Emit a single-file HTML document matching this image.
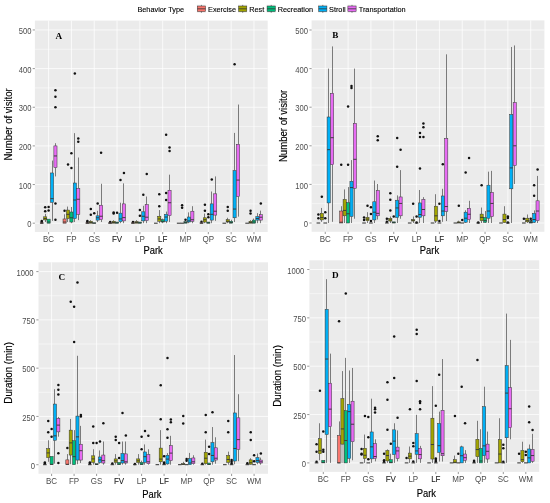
<!DOCTYPE html>
<html><head><meta charset="utf-8"><title>Behavior Type by Park</title>
<style>
html,body{margin:0;padding:0;background:#fff;}
svg{display:block;font-family:"Liberation Sans",sans-serif;}
</style></head><body>
<svg width="550" height="503" viewBox="0 0 550 503">
<rect x="0" y="0" width="550" height="503" fill="#fff"/>
<g>
<rect x="34.9" y="20.6" width="232.8" height="211.4" fill="#ebebeb"/>
<line x1="34.9" x2="267.7" y1="203.88" y2="203.88" stroke="#fff" stroke-width="0.5"/>
<line x1="34.9" x2="267.7" y1="165.22" y2="165.22" stroke="#fff" stroke-width="0.5"/>
<line x1="34.9" x2="267.7" y1="126.57" y2="126.57" stroke="#fff" stroke-width="0.5"/>
<line x1="34.9" x2="267.7" y1="87.92" y2="87.92" stroke="#fff" stroke-width="0.5"/>
<line x1="34.9" x2="267.7" y1="49.27" y2="49.27" stroke="#fff" stroke-width="0.5"/>
<line x1="34.9" x2="267.7" y1="223.2" y2="223.2" stroke="#fff" stroke-width="0.75"/>
<line x1="32.7" x2="34.9" y1="223.2" y2="223.2" stroke="#333" stroke-width="0.5"/>
<text transform="translate(31.4 227.4) scale(0.87 1)" text-anchor="end" font-size="8.8" fill="#4d4d4d">0</text>
<line x1="34.9" x2="267.7" y1="184.55" y2="184.55" stroke="#fff" stroke-width="0.75"/>
<line x1="32.7" x2="34.9" y1="184.55" y2="184.55" stroke="#333" stroke-width="0.5"/>
<text transform="translate(31.4 188.75) scale(0.87 1)" text-anchor="end" font-size="8.8" fill="#4d4d4d">100</text>
<line x1="34.9" x2="267.7" y1="145.9" y2="145.9" stroke="#fff" stroke-width="0.75"/>
<line x1="32.7" x2="34.9" y1="145.9" y2="145.9" stroke="#333" stroke-width="0.5"/>
<text transform="translate(31.4 150.1) scale(0.87 1)" text-anchor="end" font-size="8.8" fill="#4d4d4d">200</text>
<line x1="34.9" x2="267.7" y1="107.25" y2="107.25" stroke="#fff" stroke-width="0.75"/>
<line x1="32.7" x2="34.9" y1="107.25" y2="107.25" stroke="#333" stroke-width="0.5"/>
<text transform="translate(31.4 111.45) scale(0.87 1)" text-anchor="end" font-size="8.8" fill="#4d4d4d">300</text>
<line x1="34.9" x2="267.7" y1="68.6" y2="68.6" stroke="#fff" stroke-width="0.75"/>
<line x1="32.7" x2="34.9" y1="68.6" y2="68.6" stroke="#333" stroke-width="0.5"/>
<text transform="translate(31.4 72.8) scale(0.87 1)" text-anchor="end" font-size="8.8" fill="#4d4d4d">400</text>
<line x1="34.9" x2="267.7" y1="29.95" y2="29.95" stroke="#fff" stroke-width="0.75"/>
<line x1="32.7" x2="34.9" y1="29.95" y2="29.95" stroke="#333" stroke-width="0.5"/>
<text transform="translate(31.4 34.15) scale(0.87 1)" text-anchor="end" font-size="8.8" fill="#4d4d4d">500</text>
<line x1="48.6" x2="48.6" y1="20.6" y2="232" stroke="#fff" stroke-width="0.75"/>
<line x1="48.6" x2="48.6" y1="232" y2="234.2" stroke="#333" stroke-width="0.5"/>
<text transform="translate(48.6 242.3) scale(0.91 1)" text-anchor="middle" font-size="8.8" fill="#4d4d4d">BC</text>
<line x1="71.42" x2="71.42" y1="20.6" y2="232" stroke="#fff" stroke-width="0.75"/>
<line x1="71.42" x2="71.42" y1="232" y2="234.2" stroke="#333" stroke-width="0.5"/>
<text transform="translate(71.42 242.3) scale(0.91 1)" text-anchor="middle" font-size="8.8" fill="#4d4d4d">FP</text>
<line x1="94.24" x2="94.24" y1="20.6" y2="232" stroke="#fff" stroke-width="0.75"/>
<line x1="94.24" x2="94.24" y1="232" y2="234.2" stroke="#333" stroke-width="0.5"/>
<text transform="translate(94.24 242.3) scale(0.91 1)" text-anchor="middle" font-size="8.8" fill="#4d4d4d">GS</text>
<line x1="117.06" x2="117.06" y1="20.6" y2="232" stroke="#fff" stroke-width="0.75"/>
<line x1="117.06" x2="117.06" y1="232" y2="234.2" stroke="#333" stroke-width="0.5"/>
<text transform="translate(117.06 242.3) scale(0.91 1)" text-anchor="middle" font-size="8.8" fill="#1a1a1a" stroke="#1a1a1a" stroke-width="0.08">FV</text>
<line x1="139.88" x2="139.88" y1="20.6" y2="232" stroke="#fff" stroke-width="0.75"/>
<line x1="139.88" x2="139.88" y1="232" y2="234.2" stroke="#333" stroke-width="0.5"/>
<text transform="translate(139.88 242.3) scale(0.91 1)" text-anchor="middle" font-size="8.8" fill="#4d4d4d">LP</text>
<line x1="162.7" x2="162.7" y1="20.6" y2="232" stroke="#fff" stroke-width="0.75"/>
<line x1="162.7" x2="162.7" y1="232" y2="234.2" stroke="#333" stroke-width="0.5"/>
<text transform="translate(162.7 242.3) scale(0.91 1)" text-anchor="middle" font-size="8.8" fill="#1a1a1a" stroke="#1a1a1a" stroke-width="0.08">LF</text>
<line x1="185.52" x2="185.52" y1="20.6" y2="232" stroke="#fff" stroke-width="0.75"/>
<line x1="185.52" x2="185.52" y1="232" y2="234.2" stroke="#333" stroke-width="0.5"/>
<text transform="translate(185.52 242.3) scale(0.91 1)" text-anchor="middle" font-size="8.8" fill="#4d4d4d">MP</text>
<line x1="208.34" x2="208.34" y1="20.6" y2="232" stroke="#fff" stroke-width="0.75"/>
<line x1="208.34" x2="208.34" y1="232" y2="234.2" stroke="#333" stroke-width="0.5"/>
<text transform="translate(208.34 242.3) scale(0.91 1)" text-anchor="middle" font-size="8.8" fill="#4d4d4d">QP</text>
<line x1="231.16" x2="231.16" y1="20.6" y2="232" stroke="#fff" stroke-width="0.75"/>
<line x1="231.16" x2="231.16" y1="232" y2="234.2" stroke="#333" stroke-width="0.5"/>
<text transform="translate(231.16 242.3) scale(0.91 1)" text-anchor="middle" font-size="8.8" fill="#4d4d4d">SC</text>
<line x1="253.98" x2="253.98" y1="20.6" y2="232" stroke="#fff" stroke-width="0.75"/>
<line x1="253.98" x2="253.98" y1="232" y2="234.2" stroke="#333" stroke-width="0.5"/>
<text transform="translate(253.98 242.3) scale(0.91 1)" text-anchor="middle" font-size="8.8" fill="#4d4d4d">WM</text>
<circle cx="41.75" cy="222.04" r="1.25" fill="#111"/>
<circle cx="41.75" cy="220.88" r="1.25" fill="#111"/>
<line x1="41.5" x2="41.5" y1="222.43" y2="222.81" stroke="#666" stroke-width="0.85"/>
<rect x="40.18" y="222.81" width="3.15" height="0.39" fill="#F8766D" stroke="#333" stroke-width="0.5"/>
<line x1="40.18" x2="43.33" y1="223.2" y2="223.2" stroke="#333" stroke-width="0.9"/>
<circle cx="45.18" cy="211.22" r="1.25" fill="#111"/>
<circle cx="45.18" cy="207.35" r="1.25" fill="#111"/>
<line x1="45.5" x2="45.5" y1="213.92" y2="216.82" stroke="#666" stroke-width="0.85"/>
<line x1="45.5" x2="45.5" y1="219.91" y2="222.04" stroke="#666" stroke-width="0.85"/>
<rect x="43.6" y="216.82" width="3.15" height="3.09" fill="#A3A500" stroke="#333" stroke-width="0.5"/>
<line x1="43.6" x2="46.75" y1="218.56" y2="218.56" stroke="#333" stroke-width="0.9"/>
<circle cx="48.6" cy="210.45" r="1.25" fill="#111"/>
<circle cx="48.6" cy="206.97" r="1.25" fill="#111"/>
<rect x="47.03" y="219.14" width="3.15" height="4.06" fill="#00BF7D" stroke="#333" stroke-width="0.5"/>
<line x1="47.03" x2="50.17" y1="222.04" y2="222.04" stroke="#333" stroke-width="0.9"/>
<line x1="52.5" x2="52.5" y1="160.59" y2="172.95" stroke="#666" stroke-width="0.85"/>
<line x1="52.5" x2="52.5" y1="202.33" y2="220.88" stroke="#666" stroke-width="0.85"/>
<rect x="50.45" y="172.95" width="3.15" height="29.37" fill="#00B0F6" stroke="#333" stroke-width="0.5"/>
<line x1="50.45" x2="53.6" y1="198.66" y2="198.66" stroke="#333" stroke-width="0.9"/>
<circle cx="55.45" cy="219.72" r="1.25" fill="#111"/>
<circle cx="55.45" cy="203.49" r="1.25" fill="#111"/>
<circle cx="55.45" cy="107.25" r="1.25" fill="#111"/>
<circle cx="55.45" cy="96.81" r="1.25" fill="#111"/>
<circle cx="55.45" cy="90.24" r="1.25" fill="#111"/>
<line x1="55.5" x2="55.5" y1="143.19" y2="145.9" stroke="#666" stroke-width="0.85"/>
<line x1="55.5" x2="55.5" y1="167.54" y2="176.43" stroke="#666" stroke-width="0.85"/>
<rect x="53.87" y="145.9" width="3.15" height="21.64" fill="#E76BF3" stroke="#333" stroke-width="0.5"/>
<line x1="53.87" x2="57.02" y1="155.95" y2="155.95" stroke="#333" stroke-width="0.9"/>
<circle cx="64.57" cy="210.64" r="1.25" fill="#111"/>
<line x1="64.5" x2="64.5" y1="214.31" y2="218.95" stroke="#666" stroke-width="0.85"/>
<rect x="63" y="218.95" width="3.15" height="4.25" fill="#F8766D" stroke="#333" stroke-width="0.5"/>
<line x1="63" x2="66.15" y1="222.04" y2="222.04" stroke="#333" stroke-width="0.9"/>
<circle cx="68" cy="164.45" r="1.25" fill="#111"/>
<line x1="67.5" x2="67.5" y1="206.58" y2="210.06" stroke="#666" stroke-width="0.85"/>
<line x1="67.5" x2="67.5" y1="218.56" y2="222.04" stroke="#666" stroke-width="0.85"/>
<rect x="66.42" y="210.06" width="3.15" height="8.5" fill="#A3A500" stroke="#333" stroke-width="0.5"/>
<line x1="66.42" x2="69.57" y1="214.31" y2="214.31" stroke="#333" stroke-width="0.9"/>
<circle cx="71.42" cy="167.93" r="1.25" fill="#111"/>
<circle cx="71.42" cy="153.24" r="1.25" fill="#111"/>
<line x1="71.5" x2="71.5" y1="206.97" y2="211.99" stroke="#666" stroke-width="0.85"/>
<line x1="71.5" x2="71.5" y1="222.04" y2="223.2" stroke="#666" stroke-width="0.85"/>
<rect x="69.85" y="211.99" width="3.15" height="10.05" fill="#00BF7D" stroke="#333" stroke-width="0.5"/>
<line x1="69.85" x2="72.99" y1="217.79" y2="217.79" stroke="#333" stroke-width="0.9"/>
<circle cx="74.84" cy="73.62" r="1.25" fill="#111"/>
<line x1="74.5" x2="74.5" y1="133.15" y2="183" stroke="#666" stroke-width="0.85"/>
<line x1="74.5" x2="74.5" y1="218.56" y2="222.04" stroke="#666" stroke-width="0.85"/>
<rect x="73.27" y="183" width="3.15" height="35.56" fill="#00B0F6" stroke="#333" stroke-width="0.5"/>
<line x1="73.27" x2="76.42" y1="200.01" y2="200.01" stroke="#333" stroke-width="0.9"/>
<circle cx="78.27" cy="141.65" r="1.25" fill="#111"/>
<circle cx="78.27" cy="138.56" r="1.25" fill="#111"/>
<line x1="78.5" x2="78.5" y1="157.5" y2="188.41" stroke="#666" stroke-width="0.85"/>
<line x1="78.5" x2="78.5" y1="214.31" y2="220.11" stroke="#666" stroke-width="0.85"/>
<rect x="76.69" y="188.41" width="3.15" height="25.9" fill="#E76BF3" stroke="#333" stroke-width="0.5"/>
<line x1="76.69" x2="79.84" y1="199.24" y2="199.24" stroke="#333" stroke-width="0.9"/>
<circle cx="87.39" cy="222.04" r="1.25" fill="#111"/>
<circle cx="87.39" cy="220.88" r="1.25" fill="#111"/>
<rect x="85.82" y="222.81" width="3.15" height="0.39" fill="#F8766D" stroke="#333" stroke-width="0.5"/>
<line x1="85.82" x2="88.97" y1="223.2" y2="223.2" stroke="#333" stroke-width="0.9"/>
<circle cx="90.82" cy="214.7" r="1.25" fill="#111"/>
<circle cx="90.82" cy="208.9" r="1.25" fill="#111"/>
<line x1="90.5" x2="90.5" y1="220.11" y2="221.27" stroke="#666" stroke-width="0.85"/>
<rect x="89.24" y="221.27" width="3.15" height="1.93" fill="#A3A500" stroke="#333" stroke-width="0.5"/>
<line x1="89.24" x2="92.39" y1="222.43" y2="222.43" stroke="#333" stroke-width="0.9"/>
<circle cx="94.24" cy="213.15" r="1.25" fill="#111"/>
<rect x="92.67" y="222.81" width="3.15" height="0.39" fill="#00BF7D" stroke="#333" stroke-width="0.5"/>
<line x1="92.67" x2="95.81" y1="223.2" y2="223.2" stroke="#333" stroke-width="0.9"/>
<circle cx="97.66" cy="203.49" r="1.25" fill="#111"/>
<line x1="97.5" x2="97.5" y1="210.83" y2="215.86" stroke="#666" stroke-width="0.85"/>
<line x1="97.5" x2="97.5" y1="220.11" y2="222.04" stroke="#666" stroke-width="0.85"/>
<rect x="96.09" y="215.86" width="3.15" height="4.25" fill="#00B0F6" stroke="#333" stroke-width="0.5"/>
<line x1="96.09" x2="99.24" y1="217.79" y2="217.79" stroke="#333" stroke-width="0.9"/>
<circle cx="101.09" cy="152.86" r="1.25" fill="#111"/>
<line x1="101.5" x2="101.5" y1="183.78" y2="205.23" stroke="#666" stroke-width="0.85"/>
<line x1="101.5" x2="101.5" y1="219.72" y2="222.04" stroke="#666" stroke-width="0.85"/>
<rect x="99.51" y="205.23" width="3.15" height="14.49" fill="#E76BF3" stroke="#333" stroke-width="0.5"/>
<line x1="99.51" x2="102.66" y1="216.24" y2="216.24" stroke="#333" stroke-width="0.9"/>
<circle cx="110.21" cy="222.04" r="1.25" fill="#111"/>
<rect x="108.64" y="222.81" width="3.15" height="0.39" fill="#F8766D" stroke="#333" stroke-width="0.5"/>
<line x1="108.64" x2="111.79" y1="223.2" y2="223.2" stroke="#333" stroke-width="0.9"/>
<circle cx="113.64" cy="213.54" r="1.25" fill="#111"/>
<circle cx="113.64" cy="212.38" r="1.25" fill="#111"/>
<line x1="113.5" x2="113.5" y1="220.11" y2="221.27" stroke="#666" stroke-width="0.85"/>
<rect x="112.06" y="221.27" width="3.15" height="1.93" fill="#A3A500" stroke="#333" stroke-width="0.5"/>
<line x1="112.06" x2="115.21" y1="222.43" y2="222.43" stroke="#333" stroke-width="0.9"/>
<circle cx="117.06" cy="212.76" r="1.25" fill="#111"/>
<rect x="115.49" y="222.04" width="3.15" height="1.16" fill="#00BF7D" stroke="#333" stroke-width="0.5"/>
<line x1="115.49" x2="118.63" y1="222.81" y2="222.81" stroke="#333" stroke-width="0.9"/>
<circle cx="120.48" cy="180.07" r="1.25" fill="#111"/>
<line x1="120.5" x2="120.5" y1="202.72" y2="213.15" stroke="#666" stroke-width="0.85"/>
<line x1="120.5" x2="120.5" y1="221.65" y2="223.2" stroke="#666" stroke-width="0.85"/>
<rect x="118.91" y="213.15" width="3.15" height="8.5" fill="#00B0F6" stroke="#333" stroke-width="0.5"/>
<line x1="118.91" x2="122.06" y1="218.95" y2="218.95" stroke="#333" stroke-width="0.9"/>
<circle cx="123.91" cy="173.11" r="1.25" fill="#111"/>
<line x1="123.5" x2="123.5" y1="183.39" y2="203.88" stroke="#666" stroke-width="0.85"/>
<line x1="123.5" x2="123.5" y1="220.88" y2="223.2" stroke="#666" stroke-width="0.85"/>
<rect x="122.33" y="203.88" width="3.15" height="17.01" fill="#E76BF3" stroke="#333" stroke-width="0.5"/>
<line x1="122.33" x2="125.48" y1="217.6" y2="217.6" stroke="#333" stroke-width="0.9"/>
<circle cx="133.03" cy="222.04" r="1.25" fill="#111"/>
<rect x="131.46" y="222.81" width="3.15" height="0.39" fill="#F8766D" stroke="#333" stroke-width="0.5"/>
<line x1="131.46" x2="134.61" y1="223.2" y2="223.2" stroke="#333" stroke-width="0.9"/>
<line x1="136.5" x2="136.5" y1="220.11" y2="221.65" stroke="#666" stroke-width="0.85"/>
<rect x="134.88" y="221.65" width="3.15" height="1.55" fill="#A3A500" stroke="#333" stroke-width="0.5"/>
<line x1="134.88" x2="138.03" y1="222.43" y2="222.43" stroke="#333" stroke-width="0.9"/>
<circle cx="139.88" cy="215.86" r="1.25" fill="#111"/>
<circle cx="139.88" cy="210.06" r="1.25" fill="#111"/>
<rect x="138.31" y="222.04" width="3.15" height="1.16" fill="#00BF7D" stroke="#333" stroke-width="0.5"/>
<line x1="138.31" x2="141.45" y1="222.81" y2="222.81" stroke="#333" stroke-width="0.9"/>
<circle cx="143.3" cy="194.79" r="1.25" fill="#111"/>
<line x1="143.5" x2="143.5" y1="205.81" y2="211.8" stroke="#666" stroke-width="0.85"/>
<line x1="143.5" x2="143.5" y1="220.88" y2="223.2" stroke="#666" stroke-width="0.85"/>
<rect x="141.73" y="211.8" width="3.15" height="9.08" fill="#00B0F6" stroke="#333" stroke-width="0.5"/>
<line x1="141.73" x2="144.88" y1="216.24" y2="216.24" stroke="#333" stroke-width="0.9"/>
<circle cx="146.73" cy="174.11" r="1.25" fill="#111"/>
<line x1="146.5" x2="146.5" y1="196.53" y2="204.65" stroke="#666" stroke-width="0.85"/>
<line x1="146.5" x2="146.5" y1="220.49" y2="223.2" stroke="#666" stroke-width="0.85"/>
<rect x="145.15" y="204.65" width="3.15" height="15.85" fill="#E76BF3" stroke="#333" stroke-width="0.5"/>
<line x1="145.15" x2="148.3" y1="217.21" y2="217.21" stroke="#333" stroke-width="0.9"/>
<line x1="154.03" x2="157.68" y1="223.2" y2="223.2" stroke="#2a2a2a" stroke-width="1"/>
<circle cx="159.28" cy="206.19" r="1.25" fill="#111"/>
<circle cx="159.28" cy="194.21" r="1.25" fill="#111"/>
<line x1="159.5" x2="159.5" y1="210.06" y2="216.24" stroke="#666" stroke-width="0.85"/>
<line x1="159.5" x2="159.5" y1="221.27" y2="223.2" stroke="#666" stroke-width="0.85"/>
<rect x="157.7" y="216.24" width="3.15" height="5.02" fill="#A3A500" stroke="#333" stroke-width="0.5"/>
<line x1="157.7" x2="160.85" y1="218.95" y2="218.95" stroke="#333" stroke-width="0.9"/>
<line x1="162.5" x2="162.5" y1="218.56" y2="219.72" stroke="#666" stroke-width="0.85"/>
<line x1="162.5" x2="162.5" y1="222.04" y2="223.2" stroke="#666" stroke-width="0.85"/>
<rect x="161.13" y="219.72" width="3.15" height="2.32" fill="#00BF7D" stroke="#333" stroke-width="0.5"/>
<line x1="161.13" x2="164.27" y1="221.27" y2="221.27" stroke="#333" stroke-width="0.9"/>
<circle cx="166.12" cy="200.01" r="1.25" fill="#111"/>
<circle cx="166.12" cy="193.05" r="1.25" fill="#111"/>
<circle cx="166.12" cy="134.85" r="1.25" fill="#111"/>
<line x1="166.5" x2="166.5" y1="211.6" y2="214.31" stroke="#666" stroke-width="0.85"/>
<line x1="166.5" x2="166.5" y1="221.27" y2="223.2" stroke="#666" stroke-width="0.85"/>
<rect x="164.55" y="214.31" width="3.15" height="6.96" fill="#00B0F6" stroke="#333" stroke-width="0.5"/>
<line x1="164.55" x2="167.7" y1="217.02" y2="217.02" stroke="#333" stroke-width="0.9"/>
<circle cx="169.55" cy="150.92" r="1.25" fill="#111"/>
<circle cx="169.55" cy="147.45" r="1.25" fill="#111"/>
<line x1="169.5" x2="169.5" y1="174.66" y2="190.35" stroke="#666" stroke-width="0.85"/>
<line x1="169.5" x2="169.5" y1="215.47" y2="222.04" stroke="#666" stroke-width="0.85"/>
<rect x="167.97" y="190.35" width="3.15" height="25.12" fill="#E76BF3" stroke="#333" stroke-width="0.5"/>
<line x1="167.97" x2="171.12" y1="202.72" y2="202.72" stroke="#333" stroke-width="0.9"/>
<line x1="176.85" x2="180.5" y1="223.2" y2="223.2" stroke="#2a2a2a" stroke-width="1"/>
<circle cx="182.1" cy="207.74" r="1.25" fill="#111"/>
<circle cx="182.1" cy="205.23" r="1.25" fill="#111"/>
<line x1="180.27" x2="183.92" y1="223.2" y2="223.2" stroke="#2a2a2a" stroke-width="1"/>
<circle cx="185.52" cy="219.72" r="1.25" fill="#111"/>
<rect x="183.95" y="221.65" width="3.15" height="1.55" fill="#00BF7D" stroke="#333" stroke-width="0.5"/>
<line x1="183.95" x2="187.09" y1="222.43" y2="222.43" stroke="#333" stroke-width="0.9"/>
<line x1="188.5" x2="188.5" y1="212.38" y2="217.02" stroke="#666" stroke-width="0.85"/>
<line x1="188.5" x2="188.5" y1="222.04" y2="223.2" stroke="#666" stroke-width="0.85"/>
<rect x="187.37" y="217.02" width="3.15" height="5.02" fill="#00B0F6" stroke="#333" stroke-width="0.5"/>
<line x1="187.37" x2="190.52" y1="220.88" y2="220.88" stroke="#333" stroke-width="0.9"/>
<line x1="192.5" x2="192.5" y1="206.19" y2="211.22" stroke="#666" stroke-width="0.85"/>
<line x1="192.5" x2="192.5" y1="221.27" y2="223.2" stroke="#666" stroke-width="0.85"/>
<rect x="190.79" y="211.22" width="3.15" height="10.05" fill="#E76BF3" stroke="#333" stroke-width="0.5"/>
<line x1="190.79" x2="193.94" y1="219.72" y2="219.72" stroke="#333" stroke-width="0.9"/>
<circle cx="201.49" cy="221.65" r="1.25" fill="#111"/>
<rect x="199.92" y="222.81" width="3.15" height="0.39" fill="#F8766D" stroke="#333" stroke-width="0.5"/>
<line x1="199.92" x2="203.07" y1="223.2" y2="223.2" stroke="#333" stroke-width="0.9"/>
<circle cx="204.92" cy="210.64" r="1.25" fill="#111"/>
<circle cx="204.92" cy="204.65" r="1.25" fill="#111"/>
<line x1="204.5" x2="204.5" y1="213.54" y2="217.79" stroke="#666" stroke-width="0.85"/>
<line x1="204.5" x2="204.5" y1="222.04" y2="223.2" stroke="#666" stroke-width="0.85"/>
<rect x="203.34" y="217.79" width="3.15" height="4.25" fill="#A3A500" stroke="#333" stroke-width="0.5"/>
<line x1="203.34" x2="206.49" y1="219.72" y2="219.72" stroke="#333" stroke-width="0.9"/>
<circle cx="208.34" cy="217.21" r="1.25" fill="#111"/>
<circle cx="208.34" cy="214.31" r="1.25" fill="#111"/>
<rect x="206.77" y="222.04" width="3.15" height="1.16" fill="#00BF7D" stroke="#333" stroke-width="0.5"/>
<line x1="206.77" x2="209.91" y1="222.81" y2="222.81" stroke="#333" stroke-width="0.9"/>
<circle cx="211.76" cy="179.53" r="1.25" fill="#111"/>
<line x1="211.5" x2="211.5" y1="191.51" y2="203.88" stroke="#666" stroke-width="0.85"/>
<line x1="211.5" x2="211.5" y1="220.11" y2="223.2" stroke="#666" stroke-width="0.85"/>
<rect x="210.19" y="203.88" width="3.15" height="16.23" fill="#00B0F6" stroke="#333" stroke-width="0.5"/>
<line x1="210.19" x2="213.34" y1="214.31" y2="214.31" stroke="#333" stroke-width="0.9"/>
<line x1="215.5" x2="215.5" y1="176.43" y2="193.83" stroke="#666" stroke-width="0.85"/>
<line x1="215.5" x2="215.5" y1="215.08" y2="220.88" stroke="#666" stroke-width="0.85"/>
<rect x="213.61" y="193.83" width="3.15" height="21.26" fill="#E76BF3" stroke="#333" stroke-width="0.5"/>
<line x1="213.61" x2="216.76" y1="211.22" y2="211.22" stroke="#333" stroke-width="0.9"/>
<line x1="222.49" x2="226.14" y1="223.2" y2="223.2" stroke="#2a2a2a" stroke-width="1"/>
<circle cx="227.74" cy="210.64" r="1.25" fill="#111"/>
<circle cx="227.74" cy="206.97" r="1.25" fill="#111"/>
<line x1="227.5" x2="227.5" y1="217.79" y2="219.72" stroke="#666" stroke-width="0.85"/>
<line x1="227.5" x2="227.5" y1="222.04" y2="223.2" stroke="#666" stroke-width="0.85"/>
<rect x="226.16" y="219.72" width="3.15" height="2.32" fill="#A3A500" stroke="#333" stroke-width="0.5"/>
<line x1="226.16" x2="229.31" y1="221.27" y2="221.27" stroke="#333" stroke-width="0.9"/>
<line x1="231.5" x2="231.5" y1="219.72" y2="221.27" stroke="#666" stroke-width="0.85"/>
<rect x="229.59" y="221.27" width="3.15" height="1.93" fill="#00BF7D" stroke="#333" stroke-width="0.5"/>
<line x1="229.59" x2="232.73" y1="222.43" y2="222.43" stroke="#333" stroke-width="0.9"/>
<circle cx="234.58" cy="64.35" r="1.25" fill="#111"/>
<line x1="234.5" x2="234.5" y1="132.91" y2="170.64" stroke="#666" stroke-width="0.85"/>
<line x1="234.5" x2="234.5" y1="217.79" y2="222.04" stroke="#666" stroke-width="0.85"/>
<rect x="233.01" y="170.64" width="3.15" height="47.15" fill="#00B0F6" stroke="#333" stroke-width="0.5"/>
<line x1="233.01" x2="236.16" y1="209.05" y2="209.05" stroke="#333" stroke-width="0.9"/>
<line x1="238.5" x2="238.5" y1="104.54" y2="144.35" stroke="#666" stroke-width="0.85"/>
<line x1="238.5" x2="238.5" y1="196.53" y2="216.63" stroke="#666" stroke-width="0.85"/>
<rect x="236.43" y="144.35" width="3.15" height="52.18" fill="#E76BF3" stroke="#333" stroke-width="0.5"/>
<line x1="236.43" x2="239.58" y1="180.07" y2="180.07" stroke="#333" stroke-width="0.9"/>
<line x1="245.31" x2="248.96" y1="223.2" y2="223.2" stroke="#2a2a2a" stroke-width="1"/>
<circle cx="250.56" cy="213.54" r="1.25" fill="#111"/>
<circle cx="250.56" cy="210.64" r="1.25" fill="#111"/>
<line x1="250.5" x2="250.5" y1="220.11" y2="221.27" stroke="#666" stroke-width="0.85"/>
<rect x="248.98" y="221.27" width="3.15" height="1.93" fill="#A3A500" stroke="#333" stroke-width="0.5"/>
<line x1="248.98" x2="252.13" y1="222.43" y2="222.43" stroke="#333" stroke-width="0.9"/>
<line x1="253.5" x2="253.5" y1="218.56" y2="220.11" stroke="#666" stroke-width="0.85"/>
<rect x="252.41" y="220.11" width="3.15" height="3.09" fill="#00BF7D" stroke="#333" stroke-width="0.5"/>
<line x1="252.41" x2="255.55" y1="222.04" y2="222.04" stroke="#333" stroke-width="0.9"/>
<line x1="257.5" x2="257.5" y1="213.15" y2="216.63" stroke="#666" stroke-width="0.85"/>
<line x1="257.5" x2="257.5" y1="220.11" y2="223.2" stroke="#666" stroke-width="0.85"/>
<rect x="255.83" y="216.63" width="3.15" height="3.48" fill="#00B0F6" stroke="#333" stroke-width="0.5"/>
<line x1="255.83" x2="258.98" y1="218.56" y2="218.56" stroke="#333" stroke-width="0.9"/>
<circle cx="260.83" cy="203.49" r="1.25" fill="#111"/>
<line x1="260.5" x2="260.5" y1="210.64" y2="214.7" stroke="#666" stroke-width="0.85"/>
<line x1="260.5" x2="260.5" y1="220.11" y2="223.2" stroke="#666" stroke-width="0.85"/>
<rect x="259.25" y="214.7" width="3.15" height="5.41" fill="#E76BF3" stroke="#333" stroke-width="0.5"/>
<line x1="259.25" x2="262.4" y1="217.21" y2="217.21" stroke="#333" stroke-width="0.9"/>
<text transform="translate(153.1 253.9) scale(0.94 1)" text-anchor="middle" font-size="10.0" fill="#000" stroke="#000" stroke-width="0.15">Park</text>
<text transform="translate(12.2 124.4) rotate(-90) scale(0.958 1)" text-anchor="middle" font-size="10.0" fill="#000" stroke="#000" stroke-width="0.15">Number of visitor</text>
<text x="58.8" y="38.7" text-anchor="middle" font-size="9.2" font-weight="bold" font-family="'Liberation Serif',serif" fill="#000">A</text>
</g>
<g>
<rect x="311.6" y="20.4" width="232.8" height="211.4" fill="#ebebeb"/>
<line x1="311.6" x2="544.4" y1="203.7" y2="203.7" stroke="#fff" stroke-width="0.5"/>
<line x1="311.6" x2="544.4" y1="165.1" y2="165.1" stroke="#fff" stroke-width="0.5"/>
<line x1="311.6" x2="544.4" y1="126.5" y2="126.5" stroke="#fff" stroke-width="0.5"/>
<line x1="311.6" x2="544.4" y1="87.9" y2="87.9" stroke="#fff" stroke-width="0.5"/>
<line x1="311.6" x2="544.4" y1="49.3" y2="49.3" stroke="#fff" stroke-width="0.5"/>
<line x1="311.6" x2="544.4" y1="223" y2="223" stroke="#fff" stroke-width="0.75"/>
<line x1="309.4" x2="311.6" y1="223" y2="223" stroke="#333" stroke-width="0.5"/>
<text transform="translate(308.1 227.2) scale(0.87 1)" text-anchor="end" font-size="8.8" fill="#4d4d4d">0</text>
<line x1="311.6" x2="544.4" y1="184.4" y2="184.4" stroke="#fff" stroke-width="0.75"/>
<line x1="309.4" x2="311.6" y1="184.4" y2="184.4" stroke="#333" stroke-width="0.5"/>
<text transform="translate(308.1 188.6) scale(0.87 1)" text-anchor="end" font-size="8.8" fill="#4d4d4d">100</text>
<line x1="311.6" x2="544.4" y1="145.8" y2="145.8" stroke="#fff" stroke-width="0.75"/>
<line x1="309.4" x2="311.6" y1="145.8" y2="145.8" stroke="#333" stroke-width="0.5"/>
<text transform="translate(308.1 150) scale(0.87 1)" text-anchor="end" font-size="8.8" fill="#4d4d4d">200</text>
<line x1="311.6" x2="544.4" y1="107.2" y2="107.2" stroke="#fff" stroke-width="0.75"/>
<line x1="309.4" x2="311.6" y1="107.2" y2="107.2" stroke="#333" stroke-width="0.5"/>
<text transform="translate(308.1 111.4) scale(0.87 1)" text-anchor="end" font-size="8.8" fill="#4d4d4d">300</text>
<line x1="311.6" x2="544.4" y1="68.6" y2="68.6" stroke="#fff" stroke-width="0.75"/>
<line x1="309.4" x2="311.6" y1="68.6" y2="68.6" stroke="#333" stroke-width="0.5"/>
<text transform="translate(308.1 72.8) scale(0.87 1)" text-anchor="end" font-size="8.8" fill="#4d4d4d">400</text>
<line x1="311.6" x2="544.4" y1="30" y2="30" stroke="#fff" stroke-width="0.75"/>
<line x1="309.4" x2="311.6" y1="30" y2="30" stroke="#333" stroke-width="0.5"/>
<text transform="translate(308.1 34.2) scale(0.87 1)" text-anchor="end" font-size="8.8" fill="#4d4d4d">500</text>
<line x1="325.25" x2="325.25" y1="20.4" y2="231.8" stroke="#fff" stroke-width="0.75"/>
<line x1="325.25" x2="325.25" y1="231.8" y2="234" stroke="#333" stroke-width="0.5"/>
<text transform="translate(325.25 242) scale(0.91 1)" text-anchor="middle" font-size="8.8" fill="#4d4d4d">BC</text>
<line x1="348.08" x2="348.08" y1="20.4" y2="231.8" stroke="#fff" stroke-width="0.75"/>
<line x1="348.08" x2="348.08" y1="231.8" y2="234" stroke="#333" stroke-width="0.5"/>
<text transform="translate(348.08 242) scale(0.91 1)" text-anchor="middle" font-size="8.8" fill="#4d4d4d">FP</text>
<line x1="370.91" x2="370.91" y1="20.4" y2="231.8" stroke="#fff" stroke-width="0.75"/>
<line x1="370.91" x2="370.91" y1="231.8" y2="234" stroke="#333" stroke-width="0.5"/>
<text transform="translate(370.91 242) scale(0.91 1)" text-anchor="middle" font-size="8.8" fill="#4d4d4d">GS</text>
<line x1="393.74" x2="393.74" y1="20.4" y2="231.8" stroke="#fff" stroke-width="0.75"/>
<line x1="393.74" x2="393.74" y1="231.8" y2="234" stroke="#333" stroke-width="0.5"/>
<text transform="translate(393.74 242) scale(0.91 1)" text-anchor="middle" font-size="8.8" fill="#1a1a1a" stroke="#1a1a1a" stroke-width="0.08">FV</text>
<line x1="416.57" x2="416.57" y1="20.4" y2="231.8" stroke="#fff" stroke-width="0.75"/>
<line x1="416.57" x2="416.57" y1="231.8" y2="234" stroke="#333" stroke-width="0.5"/>
<text transform="translate(416.57 242) scale(0.91 1)" text-anchor="middle" font-size="8.8" fill="#4d4d4d">LP</text>
<line x1="439.4" x2="439.4" y1="20.4" y2="231.8" stroke="#fff" stroke-width="0.75"/>
<line x1="439.4" x2="439.4" y1="231.8" y2="234" stroke="#333" stroke-width="0.5"/>
<text transform="translate(439.4 242) scale(0.91 1)" text-anchor="middle" font-size="8.8" fill="#1a1a1a" stroke="#1a1a1a" stroke-width="0.08">LF</text>
<line x1="462.23" x2="462.23" y1="20.4" y2="231.8" stroke="#fff" stroke-width="0.75"/>
<line x1="462.23" x2="462.23" y1="231.8" y2="234" stroke="#333" stroke-width="0.5"/>
<text transform="translate(462.23 242) scale(0.91 1)" text-anchor="middle" font-size="8.8" fill="#4d4d4d">MP</text>
<line x1="485.06" x2="485.06" y1="20.4" y2="231.8" stroke="#fff" stroke-width="0.75"/>
<line x1="485.06" x2="485.06" y1="231.8" y2="234" stroke="#333" stroke-width="0.5"/>
<text transform="translate(485.06 242) scale(0.91 1)" text-anchor="middle" font-size="8.8" fill="#4d4d4d">QP</text>
<line x1="507.89" x2="507.89" y1="20.4" y2="231.8" stroke="#fff" stroke-width="0.75"/>
<line x1="507.89" x2="507.89" y1="231.8" y2="234" stroke="#333" stroke-width="0.5"/>
<text transform="translate(507.89 242) scale(0.91 1)" text-anchor="middle" font-size="8.8" fill="#4d4d4d">SC</text>
<line x1="530.72" x2="530.72" y1="20.4" y2="231.8" stroke="#fff" stroke-width="0.75"/>
<line x1="530.72" x2="530.72" y1="231.8" y2="234" stroke="#333" stroke-width="0.5"/>
<text transform="translate(530.72 242) scale(0.91 1)" text-anchor="middle" font-size="8.8" fill="#4d4d4d">WM</text>
<circle cx="318.4" cy="218.37" r="1.25" fill="#111"/>
<circle cx="318.4" cy="214.51" r="1.25" fill="#111"/>
<line x1="316.58" x2="320.23" y1="223" y2="223" stroke="#2a2a2a" stroke-width="1"/>
<circle cx="321.83" cy="196.75" r="1.25" fill="#111"/>
<line x1="321.5" x2="321.5" y1="207.95" y2="213.35" stroke="#666" stroke-width="0.85"/>
<line x1="321.5" x2="321.5" y1="219.91" y2="221.84" stroke="#666" stroke-width="0.85"/>
<rect x="320.25" y="213.35" width="3.15" height="6.56" fill="#A3A500" stroke="#333" stroke-width="0.5"/>
<line x1="320.25" x2="323.4" y1="217.6" y2="217.6" stroke="#333" stroke-width="0.9"/>
<circle cx="325.25" cy="218.37" r="1.25" fill="#111"/>
<circle cx="325.25" cy="212.19" r="1.25" fill="#111"/>
<line x1="323.42" x2="327.08" y1="223" y2="223" stroke="#2a2a2a" stroke-width="1"/>
<line x1="328.5" x2="328.5" y1="68.6" y2="117" stroke="#666" stroke-width="0.85"/>
<line x1="328.5" x2="328.5" y1="202.93" y2="223" stroke="#666" stroke-width="0.85"/>
<rect x="327.1" y="117" width="3.15" height="85.92" fill="#00B0F6" stroke="#333" stroke-width="0.5"/>
<line x1="327.1" x2="330.25" y1="149.66" y2="149.66" stroke="#333" stroke-width="0.9"/>
<line x1="332.5" x2="332.5" y1="46.41" y2="93.3" stroke="#666" stroke-width="0.85"/>
<line x1="332.5" x2="332.5" y1="164.71" y2="221.84" stroke="#666" stroke-width="0.85"/>
<rect x="330.52" y="93.3" width="3.15" height="71.41" fill="#E76BF3" stroke="#333" stroke-width="0.5"/>
<line x1="330.52" x2="333.67" y1="137.69" y2="137.69" stroke="#333" stroke-width="0.9"/>
<circle cx="341.23" cy="164.71" r="1.25" fill="#111"/>
<line x1="341.5" x2="341.5" y1="206.21" y2="211.03" stroke="#666" stroke-width="0.85"/>
<rect x="339.66" y="211.03" width="3.15" height="11.97" fill="#F8766D" stroke="#333" stroke-width="0.5"/>
<line x1="339.66" x2="342.81" y1="222.23" y2="222.23" stroke="#333" stroke-width="0.9"/>
<line x1="344.5" x2="344.5" y1="189.42" y2="199.45" stroke="#666" stroke-width="0.85"/>
<line x1="344.5" x2="344.5" y1="215.82" y2="223" stroke="#666" stroke-width="0.85"/>
<rect x="343.08" y="199.45" width="3.15" height="16.37" fill="#A3A500" stroke="#333" stroke-width="0.5"/>
<line x1="343.08" x2="346.23" y1="210.42" y2="210.42" stroke="#333" stroke-width="0.9"/>
<circle cx="348.08" cy="164.71" r="1.25" fill="#111"/>
<circle cx="348.08" cy="106.43" r="1.25" fill="#111"/>
<line x1="348.5" x2="348.5" y1="187.1" y2="202.54" stroke="#666" stroke-width="0.85"/>
<rect x="346.5" y="202.54" width="3.15" height="20.46" fill="#00BF7D" stroke="#333" stroke-width="0.5"/>
<line x1="346.5" x2="349.66" y1="213.74" y2="213.74" stroke="#333" stroke-width="0.9"/>
<circle cx="351.5" cy="87.9" r="1.25" fill="#111"/>
<circle cx="351.5" cy="85.97" r="1.25" fill="#111"/>
<line x1="351.5" x2="351.5" y1="160.08" y2="181.31" stroke="#666" stroke-width="0.85"/>
<line x1="351.5" x2="351.5" y1="216.44" y2="223" stroke="#666" stroke-width="0.85"/>
<rect x="349.93" y="181.31" width="3.15" height="35.13" fill="#00B0F6" stroke="#333" stroke-width="0.5"/>
<line x1="349.93" x2="353.08" y1="187.6" y2="187.6" stroke="#333" stroke-width="0.9"/>
<line x1="354.5" x2="354.5" y1="68.6" y2="123.41" stroke="#666" stroke-width="0.85"/>
<line x1="354.5" x2="354.5" y1="188.26" y2="218.75" stroke="#666" stroke-width="0.85"/>
<rect x="353.35" y="123.41" width="3.15" height="64.85" fill="#E76BF3" stroke="#333" stroke-width="0.5"/>
<line x1="353.35" x2="356.5" y1="159.31" y2="159.31" stroke="#333" stroke-width="0.9"/>
<circle cx="364.06" cy="219.91" r="1.25" fill="#111"/>
<circle cx="364.06" cy="217.6" r="1.25" fill="#111"/>
<line x1="362.24" x2="365.89" y1="223" y2="223" stroke="#2a2a2a" stroke-width="1"/>
<circle cx="367.49" cy="205.63" r="1.25" fill="#111"/>
<line x1="367.5" x2="367.5" y1="212.19" y2="217.36" stroke="#666" stroke-width="0.85"/>
<line x1="367.5" x2="367.5" y1="220.68" y2="223" stroke="#666" stroke-width="0.85"/>
<rect x="365.91" y="217.36" width="3.15" height="3.32" fill="#A3A500" stroke="#333" stroke-width="0.5"/>
<line x1="365.91" x2="369.06" y1="219.14" y2="219.14" stroke="#333" stroke-width="0.9"/>
<circle cx="370.91" cy="221.07" r="1.25" fill="#111"/>
<circle cx="370.91" cy="214.12" r="1.25" fill="#111"/>
<circle cx="370.91" cy="207.17" r="1.25" fill="#111"/>
<line x1="369.08" x2="372.74" y1="223" y2="223" stroke="#2a2a2a" stroke-width="1"/>
<line x1="374.5" x2="374.5" y1="180.54" y2="201.77" stroke="#666" stroke-width="0.85"/>
<line x1="374.5" x2="374.5" y1="219.91" y2="223" stroke="#666" stroke-width="0.85"/>
<rect x="372.76" y="201.77" width="3.15" height="18.14" fill="#00B0F6" stroke="#333" stroke-width="0.5"/>
<line x1="372.76" x2="375.91" y1="212.19" y2="212.19" stroke="#333" stroke-width="0.9"/>
<circle cx="377.76" cy="140.2" r="1.25" fill="#111"/>
<circle cx="377.76" cy="136.15" r="1.25" fill="#111"/>
<line x1="377.5" x2="377.5" y1="184.01" y2="190.58" stroke="#666" stroke-width="0.85"/>
<line x1="377.5" x2="377.5" y1="215.82" y2="219.53" stroke="#666" stroke-width="0.85"/>
<rect x="376.18" y="190.58" width="3.15" height="25.24" fill="#E76BF3" stroke="#333" stroke-width="0.5"/>
<line x1="376.18" x2="379.33" y1="213.35" y2="213.35" stroke="#333" stroke-width="0.9"/>
<circle cx="386.89" cy="221.84" r="1.25" fill="#111"/>
<circle cx="386.89" cy="218.75" r="1.25" fill="#111"/>
<line x1="385.07" x2="388.72" y1="223" y2="223" stroke="#2a2a2a" stroke-width="1"/>
<circle cx="390.32" cy="210.42" r="1.25" fill="#111"/>
<circle cx="390.32" cy="199.84" r="1.25" fill="#111"/>
<circle cx="390.32" cy="193.28" r="1.25" fill="#111"/>
<line x1="390.5" x2="390.5" y1="216.44" y2="218.37" stroke="#666" stroke-width="0.85"/>
<line x1="390.5" x2="390.5" y1="221.07" y2="223" stroke="#666" stroke-width="0.85"/>
<rect x="388.74" y="218.37" width="3.15" height="2.7" fill="#A3A500" stroke="#333" stroke-width="0.5"/>
<line x1="388.74" x2="391.89" y1="219.91" y2="219.91" stroke="#333" stroke-width="0.9"/>
<circle cx="393.74" cy="216.44" r="1.25" fill="#111"/>
<rect x="392.16" y="221.84" width="3.15" height="1.16" fill="#00BF7D" stroke="#333" stroke-width="0.5"/>
<line x1="392.16" x2="395.32" y1="222.61" y2="222.61" stroke="#333" stroke-width="0.9"/>
<circle cx="397.16" cy="166.64" r="1.25" fill="#111"/>
<circle cx="397.16" cy="138.08" r="1.25" fill="#111"/>
<line x1="397.5" x2="397.5" y1="195.4" y2="200.23" stroke="#666" stroke-width="0.85"/>
<line x1="397.5" x2="397.5" y1="217.6" y2="223" stroke="#666" stroke-width="0.85"/>
<rect x="395.59" y="200.23" width="3.15" height="17.37" fill="#00B0F6" stroke="#333" stroke-width="0.5"/>
<line x1="395.59" x2="398.74" y1="207.95" y2="207.95" stroke="#333" stroke-width="0.9"/>
<circle cx="400.59" cy="149.66" r="1.25" fill="#111"/>
<line x1="400.5" x2="400.5" y1="170.12" y2="196.94" stroke="#666" stroke-width="0.85"/>
<line x1="400.5" x2="400.5" y1="215.82" y2="218.75" stroke="#666" stroke-width="0.85"/>
<rect x="399.01" y="196.94" width="3.15" height="18.88" fill="#E76BF3" stroke="#333" stroke-width="0.5"/>
<line x1="399.01" x2="402.16" y1="203.43" y2="203.43" stroke="#333" stroke-width="0.9"/>
<line x1="407.9" x2="411.55" y1="223" y2="223" stroke="#2a2a2a" stroke-width="1"/>
<circle cx="413.15" cy="203.7" r="1.25" fill="#111"/>
<line x1="413.5" x2="413.5" y1="216.44" y2="219.53" stroke="#666" stroke-width="0.85"/>
<line x1="413.5" x2="413.5" y1="221.07" y2="223" stroke="#666" stroke-width="0.85"/>
<rect x="411.57" y="219.53" width="3.15" height="1.54" fill="#A3A500" stroke="#333" stroke-width="0.5"/>
<line x1="411.57" x2="414.72" y1="220.3" y2="220.3" stroke="#333" stroke-width="0.9"/>
<circle cx="416.57" cy="222.42" r="1.25" fill="#111"/>
<circle cx="416.57" cy="216.44" r="1.25" fill="#111"/>
<line x1="414.74" x2="418.4" y1="223" y2="223" stroke="#2a2a2a" stroke-width="1"/>
<circle cx="419.99" cy="168.57" r="1.25" fill="#111"/>
<circle cx="419.99" cy="136.92" r="1.25" fill="#111"/>
<circle cx="419.99" cy="133.06" r="1.25" fill="#111"/>
<line x1="419.5" x2="419.5" y1="190" y2="202.93" stroke="#666" stroke-width="0.85"/>
<line x1="419.5" x2="419.5" y1="217.36" y2="223" stroke="#666" stroke-width="0.85"/>
<rect x="418.42" y="202.93" width="3.15" height="14.44" fill="#00B0F6" stroke="#333" stroke-width="0.5"/>
<line x1="418.42" x2="421.57" y1="214.51" y2="214.51" stroke="#333" stroke-width="0.9"/>
<circle cx="423.42" cy="136.92" r="1.25" fill="#111"/>
<circle cx="423.42" cy="127.27" r="1.25" fill="#111"/>
<circle cx="423.42" cy="123.49" r="1.25" fill="#111"/>
<line x1="423.5" x2="423.5" y1="197.14" y2="199.45" stroke="#666" stroke-width="0.85"/>
<line x1="423.5" x2="423.5" y1="215.82" y2="223" stroke="#666" stroke-width="0.85"/>
<rect x="421.84" y="199.45" width="3.15" height="16.37" fill="#E76BF3" stroke="#333" stroke-width="0.5"/>
<line x1="421.84" x2="424.99" y1="209.49" y2="209.49" stroke="#333" stroke-width="0.9"/>
<line x1="430.73" x2="434.38" y1="223" y2="223" stroke="#2a2a2a" stroke-width="1"/>
<line x1="435.5" x2="435.5" y1="194.2" y2="206.21" stroke="#666" stroke-width="0.85"/>
<line x1="435.5" x2="435.5" y1="221.07" y2="223" stroke="#666" stroke-width="0.85"/>
<rect x="434.4" y="206.21" width="3.15" height="14.86" fill="#A3A500" stroke="#333" stroke-width="0.5"/>
<line x1="434.4" x2="437.55" y1="215.82" y2="215.82" stroke="#333" stroke-width="0.9"/>
<circle cx="439.4" cy="221.07" r="1.25" fill="#111"/>
<circle cx="439.4" cy="203.7" r="1.25" fill="#111"/>
<line x1="437.57" x2="441.23" y1="223" y2="223" stroke="#2a2a2a" stroke-width="1"/>
<circle cx="442.82" cy="164.33" r="1.25" fill="#111"/>
<line x1="442.5" x2="442.5" y1="188.8" y2="195.98" stroke="#666" stroke-width="0.85"/>
<line x1="442.5" x2="442.5" y1="215.82" y2="221.84" stroke="#666" stroke-width="0.85"/>
<rect x="441.25" y="195.98" width="3.15" height="19.84" fill="#00B0F6" stroke="#333" stroke-width="0.5"/>
<line x1="441.25" x2="444.4" y1="211.03" y2="211.03" stroke="#333" stroke-width="0.9"/>
<line x1="446.5" x2="446.5" y1="54.32" y2="138.47" stroke="#666" stroke-width="0.85"/>
<line x1="446.5" x2="446.5" y1="211.42" y2="221.07" stroke="#666" stroke-width="0.85"/>
<rect x="444.67" y="138.47" width="3.15" height="72.95" fill="#E76BF3" stroke="#333" stroke-width="0.5"/>
<line x1="444.67" x2="447.82" y1="206.56" y2="206.56" stroke="#333" stroke-width="0.9"/>
<line x1="453.56" x2="457.21" y1="223" y2="223" stroke="#2a2a2a" stroke-width="1"/>
<circle cx="458.81" cy="205.63" r="1.25" fill="#111"/>
<line x1="458.5" x2="458.5" y1="220.68" y2="221.84" stroke="#666" stroke-width="0.85"/>
<rect x="457.23" y="221.84" width="3.15" height="1.16" fill="#A3A500" stroke="#333" stroke-width="0.5"/>
<line x1="457.23" x2="460.38" y1="222.61" y2="222.61" stroke="#333" stroke-width="0.9"/>
<circle cx="462.23" cy="219.91" r="1.25" fill="#111"/>
<line x1="460.4" x2="464.06" y1="223" y2="223" stroke="#2a2a2a" stroke-width="1"/>
<circle cx="465.65" cy="172.59" r="1.25" fill="#111"/>
<line x1="465.5" x2="465.5" y1="210.26" y2="212.19" stroke="#666" stroke-width="0.85"/>
<line x1="465.5" x2="465.5" y1="222.23" y2="223" stroke="#666" stroke-width="0.85"/>
<rect x="464.08" y="212.19" width="3.15" height="10.04" fill="#00B0F6" stroke="#333" stroke-width="0.5"/>
<line x1="464.08" x2="467.23" y1="218.21" y2="218.21" stroke="#333" stroke-width="0.9"/>
<circle cx="469.08" cy="157.92" r="1.25" fill="#111"/>
<line x1="469.5" x2="469.5" y1="200.81" y2="208.33" stroke="#666" stroke-width="0.85"/>
<line x1="469.5" x2="469.5" y1="219.53" y2="223" stroke="#666" stroke-width="0.85"/>
<rect x="467.5" y="208.33" width="3.15" height="11.19" fill="#E76BF3" stroke="#333" stroke-width="0.5"/>
<line x1="467.5" x2="470.65" y1="214.24" y2="214.24" stroke="#333" stroke-width="0.9"/>
<circle cx="478.21" cy="222.42" r="1.25" fill="#111"/>
<line x1="476.39" x2="480.04" y1="223" y2="223" stroke="#2a2a2a" stroke-width="1"/>
<circle cx="481.64" cy="185.17" r="1.25" fill="#111"/>
<line x1="481.5" x2="481.5" y1="207.56" y2="214.12" stroke="#666" stroke-width="0.85"/>
<line x1="481.5" x2="481.5" y1="220.68" y2="223" stroke="#666" stroke-width="0.85"/>
<rect x="480.06" y="214.12" width="3.15" height="6.56" fill="#A3A500" stroke="#333" stroke-width="0.5"/>
<line x1="480.06" x2="483.21" y1="217.36" y2="217.36" stroke="#333" stroke-width="0.9"/>
<line x1="485.5" x2="485.5" y1="211.03" y2="217.36" stroke="#666" stroke-width="0.85"/>
<line x1="485.5" x2="485.5" y1="222.42" y2="223" stroke="#666" stroke-width="0.85"/>
<rect x="483.48" y="217.36" width="3.15" height="5.06" fill="#00BF7D" stroke="#333" stroke-width="0.5"/>
<line x1="483.48" x2="486.64" y1="220.68" y2="220.68" stroke="#333" stroke-width="0.9"/>
<line x1="488.5" x2="488.5" y1="171.66" y2="185.17" stroke="#666" stroke-width="0.85"/>
<line x1="488.5" x2="488.5" y1="218.21" y2="223" stroke="#666" stroke-width="0.85"/>
<rect x="486.91" y="185.17" width="3.15" height="33.04" fill="#00B0F6" stroke="#333" stroke-width="0.5"/>
<line x1="486.91" x2="490.06" y1="211.03" y2="211.03" stroke="#333" stroke-width="0.9"/>
<line x1="491.5" x2="491.5" y1="170.89" y2="192.51" stroke="#666" stroke-width="0.85"/>
<line x1="491.5" x2="491.5" y1="216.63" y2="223" stroke="#666" stroke-width="0.85"/>
<rect x="490.33" y="192.51" width="3.15" height="24.12" fill="#E76BF3" stroke="#333" stroke-width="0.5"/>
<line x1="490.33" x2="493.48" y1="203.43" y2="203.43" stroke="#333" stroke-width="0.9"/>
<line x1="499.22" x2="502.87" y1="223" y2="223" stroke="#2a2a2a" stroke-width="1"/>
<line x1="504.5" x2="504.5" y1="206.21" y2="214.12" stroke="#666" stroke-width="0.85"/>
<line x1="504.5" x2="504.5" y1="222.42" y2="223" stroke="#666" stroke-width="0.85"/>
<rect x="502.89" y="214.12" width="3.15" height="8.3" fill="#A3A500" stroke="#333" stroke-width="0.5"/>
<line x1="502.89" x2="506.04" y1="219.53" y2="219.53" stroke="#333" stroke-width="0.9"/>
<circle cx="507.89" cy="222.42" r="1.25" fill="#111"/>
<circle cx="507.89" cy="217.98" r="1.25" fill="#111"/>
<circle cx="507.89" cy="216.44" r="1.25" fill="#111"/>
<line x1="506.06" x2="509.72" y1="223" y2="223" stroke="#2a2a2a" stroke-width="1"/>
<line x1="511.5" x2="511.5" y1="46.98" y2="114.53" stroke="#666" stroke-width="0.85"/>
<line x1="511.5" x2="511.5" y1="188.8" y2="223" stroke="#666" stroke-width="0.85"/>
<rect x="509.74" y="114.53" width="3.15" height="74.27" fill="#00B0F6" stroke="#333" stroke-width="0.5"/>
<line x1="509.74" x2="512.89" y1="167.92" y2="167.92" stroke="#333" stroke-width="0.9"/>
<line x1="514.5" x2="514.5" y1="45.44" y2="102.68" stroke="#666" stroke-width="0.85"/>
<line x1="514.5" x2="514.5" y1="165.49" y2="184.01" stroke="#666" stroke-width="0.85"/>
<rect x="513.16" y="102.68" width="3.15" height="62.8" fill="#E76BF3" stroke="#333" stroke-width="0.5"/>
<line x1="513.16" x2="516.31" y1="145.8" y2="145.8" stroke="#333" stroke-width="0.9"/>
<circle cx="523.87" cy="218.75" r="1.25" fill="#111"/>
<line x1="522.05" x2="525.7" y1="223" y2="223" stroke="#2a2a2a" stroke-width="1"/>
<line x1="527.5" x2="527.5" y1="214.51" y2="218.21" stroke="#666" stroke-width="0.85"/>
<line x1="527.5" x2="527.5" y1="221.84" y2="223" stroke="#666" stroke-width="0.85"/>
<rect x="525.72" y="218.21" width="3.15" height="3.63" fill="#A3A500" stroke="#333" stroke-width="0.5"/>
<line x1="525.72" x2="528.87" y1="220.68" y2="220.68" stroke="#333" stroke-width="0.9"/>
<circle cx="530.72" cy="220.68" r="1.25" fill="#111"/>
<circle cx="530.72" cy="218.75" r="1.25" fill="#111"/>
<line x1="530.5" x2="530.5" y1="219.91" y2="221.84" stroke="#666" stroke-width="0.85"/>
<rect x="529.14" y="221.84" width="3.15" height="1.16" fill="#00BF7D" stroke="#333" stroke-width="0.5"/>
<line x1="529.14" x2="532.3" y1="222.61" y2="222.61" stroke="#333" stroke-width="0.9"/>
<circle cx="534.14" cy="195.75" r="1.25" fill="#111"/>
<circle cx="534.14" cy="185.17" r="1.25" fill="#111"/>
<line x1="534.5" x2="534.5" y1="210.42" y2="213.35" stroke="#666" stroke-width="0.85"/>
<line x1="534.5" x2="534.5" y1="222.42" y2="223" stroke="#666" stroke-width="0.85"/>
<rect x="532.57" y="213.35" width="3.15" height="9.07" fill="#00B0F6" stroke="#333" stroke-width="0.5"/>
<line x1="532.57" x2="535.72" y1="219.53" y2="219.53" stroke="#333" stroke-width="0.9"/>
<circle cx="537.57" cy="169.5" r="1.25" fill="#111"/>
<line x1="537.5" x2="537.5" y1="175.91" y2="200.81" stroke="#666" stroke-width="0.85"/>
<line x1="537.5" x2="537.5" y1="220.68" y2="223" stroke="#666" stroke-width="0.85"/>
<rect x="535.99" y="200.81" width="3.15" height="19.88" fill="#E76BF3" stroke="#333" stroke-width="0.5"/>
<line x1="535.99" x2="539.14" y1="211.03" y2="211.03" stroke="#333" stroke-width="0.9"/>
<text transform="translate(429.5 253.9) scale(0.94 1)" text-anchor="middle" font-size="10.0" fill="#000" stroke="#000" stroke-width="0.15">Park</text>
<text transform="translate(287.3 125.9) rotate(-90) scale(0.958 1)" text-anchor="middle" font-size="10.0" fill="#000" stroke="#000" stroke-width="0.15">Number of visitor</text>
<text x="335.3" y="38.3" text-anchor="middle" font-size="9.2" font-weight="bold" font-family="'Liberation Serif',serif" fill="#000">B</text>
</g>
<g>
<rect x="38.5" y="262.3" width="229.5" height="211.5" fill="#ebebeb"/>
<line x1="38.5" x2="268" y1="440.56" y2="440.56" stroke="#fff" stroke-width="0.5"/>
<line x1="38.5" x2="268" y1="392.29" y2="392.29" stroke="#fff" stroke-width="0.5"/>
<line x1="38.5" x2="268" y1="344.01" y2="344.01" stroke="#fff" stroke-width="0.5"/>
<line x1="38.5" x2="268" y1="295.74" y2="295.74" stroke="#fff" stroke-width="0.5"/>
<line x1="38.5" x2="268" y1="464.7" y2="464.7" stroke="#fff" stroke-width="0.75"/>
<line x1="36.3" x2="38.5" y1="464.7" y2="464.7" stroke="#333" stroke-width="0.5"/>
<text transform="translate(35 468.9) scale(0.87 1)" text-anchor="end" font-size="8.8" fill="#4d4d4d">0</text>
<line x1="38.5" x2="268" y1="416.43" y2="416.43" stroke="#fff" stroke-width="0.75"/>
<line x1="36.3" x2="38.5" y1="416.43" y2="416.43" stroke="#333" stroke-width="0.5"/>
<text transform="translate(35 420.62) scale(0.87 1)" text-anchor="end" font-size="8.8" fill="#4d4d4d">250</text>
<line x1="38.5" x2="268" y1="368.15" y2="368.15" stroke="#fff" stroke-width="0.75"/>
<line x1="36.3" x2="38.5" y1="368.15" y2="368.15" stroke="#333" stroke-width="0.5"/>
<text transform="translate(35 372.35) scale(0.87 1)" text-anchor="end" font-size="8.8" fill="#4d4d4d">500</text>
<line x1="38.5" x2="268" y1="319.88" y2="319.88" stroke="#fff" stroke-width="0.75"/>
<line x1="36.3" x2="38.5" y1="319.88" y2="319.88" stroke="#333" stroke-width="0.5"/>
<text transform="translate(35 324.07) scale(0.87 1)" text-anchor="end" font-size="8.8" fill="#4d4d4d">750</text>
<line x1="38.5" x2="268" y1="271.6" y2="271.6" stroke="#fff" stroke-width="0.75"/>
<line x1="36.3" x2="38.5" y1="271.6" y2="271.6" stroke="#333" stroke-width="0.5"/>
<text transform="translate(33.4 275.8) scale(0.87 1)" text-anchor="end" font-size="8.8" fill="#4d4d4d">1000</text>
<line x1="51.6" x2="51.6" y1="262.3" y2="473.8" stroke="#fff" stroke-width="0.75"/>
<line x1="51.6" x2="51.6" y1="473.8" y2="476" stroke="#333" stroke-width="0.5"/>
<text transform="translate(51.6 484) scale(0.91 1)" text-anchor="middle" font-size="8.8" fill="#4d4d4d">BC</text>
<line x1="74.1" x2="74.1" y1="262.3" y2="473.8" stroke="#fff" stroke-width="0.75"/>
<line x1="74.1" x2="74.1" y1="473.8" y2="476" stroke="#333" stroke-width="0.5"/>
<text transform="translate(74.1 484) scale(0.91 1)" text-anchor="middle" font-size="8.8" fill="#4d4d4d">FP</text>
<line x1="96.6" x2="96.6" y1="262.3" y2="473.8" stroke="#fff" stroke-width="0.75"/>
<line x1="96.6" x2="96.6" y1="473.8" y2="476" stroke="#333" stroke-width="0.5"/>
<text transform="translate(96.6 484) scale(0.91 1)" text-anchor="middle" font-size="8.8" fill="#4d4d4d">GS</text>
<line x1="119.1" x2="119.1" y1="262.3" y2="473.8" stroke="#fff" stroke-width="0.75"/>
<line x1="119.1" x2="119.1" y1="473.8" y2="476" stroke="#333" stroke-width="0.5"/>
<text transform="translate(119.1 484) scale(0.91 1)" text-anchor="middle" font-size="8.8" fill="#1a1a1a" stroke="#1a1a1a" stroke-width="0.08">FV</text>
<line x1="141.6" x2="141.6" y1="262.3" y2="473.8" stroke="#fff" stroke-width="0.75"/>
<line x1="141.6" x2="141.6" y1="473.8" y2="476" stroke="#333" stroke-width="0.5"/>
<text transform="translate(141.6 484) scale(0.91 1)" text-anchor="middle" font-size="8.8" fill="#4d4d4d">LP</text>
<line x1="164.1" x2="164.1" y1="262.3" y2="473.8" stroke="#fff" stroke-width="0.75"/>
<line x1="164.1" x2="164.1" y1="473.8" y2="476" stroke="#333" stroke-width="0.5"/>
<text transform="translate(164.1 484) scale(0.91 1)" text-anchor="middle" font-size="8.8" fill="#1a1a1a" stroke="#1a1a1a" stroke-width="0.08">LF</text>
<line x1="186.6" x2="186.6" y1="262.3" y2="473.8" stroke="#fff" stroke-width="0.75"/>
<line x1="186.6" x2="186.6" y1="473.8" y2="476" stroke="#333" stroke-width="0.5"/>
<text transform="translate(186.6 484) scale(0.91 1)" text-anchor="middle" font-size="8.8" fill="#4d4d4d">MP</text>
<line x1="209.1" x2="209.1" y1="262.3" y2="473.8" stroke="#fff" stroke-width="0.75"/>
<line x1="209.1" x2="209.1" y1="473.8" y2="476" stroke="#333" stroke-width="0.5"/>
<text transform="translate(209.1 484) scale(0.91 1)" text-anchor="middle" font-size="8.8" fill="#4d4d4d">QP</text>
<line x1="231.6" x2="231.6" y1="262.3" y2="473.8" stroke="#fff" stroke-width="0.75"/>
<line x1="231.6" x2="231.6" y1="473.8" y2="476" stroke="#333" stroke-width="0.5"/>
<text transform="translate(231.6 484) scale(0.91 1)" text-anchor="middle" font-size="8.8" fill="#4d4d4d">SC</text>
<line x1="254.1" x2="254.1" y1="262.3" y2="473.8" stroke="#fff" stroke-width="0.75"/>
<line x1="254.1" x2="254.1" y1="473.8" y2="476" stroke="#333" stroke-width="0.5"/>
<text transform="translate(254.1 484) scale(0.91 1)" text-anchor="middle" font-size="8.8" fill="#4d4d4d">WM</text>
<circle cx="44.85" cy="463.54" r="1.25" fill="#111"/>
<circle cx="44.85" cy="462.38" r="1.25" fill="#111"/>
<line x1="43.05" x2="46.65" y1="464.7" y2="464.7" stroke="#2a2a2a" stroke-width="1"/>
<circle cx="48.23" cy="432.26" r="1.25" fill="#111"/>
<circle cx="48.23" cy="421.06" r="1.25" fill="#111"/>
<line x1="48.5" x2="48.5" y1="440.25" y2="448.67" stroke="#666" stroke-width="0.85"/>
<line x1="48.5" x2="48.5" y1="457.63" y2="461.8" stroke="#666" stroke-width="0.85"/>
<rect x="46.67" y="448.67" width="3.1" height="8.96" fill="#A3A500" stroke="#333" stroke-width="0.5"/>
<line x1="46.67" x2="49.78" y1="452.92" y2="452.92" stroke="#333" stroke-width="0.9"/>
<circle cx="51.6" cy="436.7" r="1.25" fill="#111"/>
<circle cx="51.6" cy="428.88" r="1.25" fill="#111"/>
<rect x="50.05" y="456.4" width="3.1" height="8.3" fill="#00BF7D" stroke="#333" stroke-width="0.5"/>
<line x1="50.05" x2="53.15" y1="464.31" y2="464.31" stroke="#333" stroke-width="0.9"/>
<line x1="54.5" x2="54.5" y1="389.2" y2="404.07" stroke="#666" stroke-width="0.85"/>
<line x1="54.5" x2="54.5" y1="440.25" y2="463.62" stroke="#666" stroke-width="0.85"/>
<rect x="53.42" y="404.07" width="3.1" height="36.19" fill="#00B0F6" stroke="#333" stroke-width="0.5"/>
<line x1="53.42" x2="56.53" y1="435.83" y2="435.83" stroke="#333" stroke-width="0.9"/>
<circle cx="58.35" cy="463.02" r="1.25" fill="#111"/>
<circle cx="58.35" cy="453.19" r="1.25" fill="#111"/>
<circle cx="58.35" cy="394.51" r="1.25" fill="#111"/>
<circle cx="58.35" cy="389.78" r="1.25" fill="#111"/>
<circle cx="58.35" cy="384.95" r="1.25" fill="#111"/>
<line x1="58.5" x2="58.5" y1="416.89" y2="418.36" stroke="#666" stroke-width="0.85"/>
<line x1="58.5" x2="58.5" y1="431.87" y2="436.7" stroke="#666" stroke-width="0.85"/>
<rect x="56.8" y="418.36" width="3.1" height="13.52" fill="#E76BF3" stroke="#333" stroke-width="0.5"/>
<line x1="56.8" x2="59.9" y1="425.11" y2="425.11" stroke="#333" stroke-width="0.9"/>
<circle cx="67.35" cy="448.09" r="1.25" fill="#111"/>
<line x1="67.5" x2="67.5" y1="454.08" y2="459.87" stroke="#666" stroke-width="0.85"/>
<rect x="65.8" y="459.87" width="3.1" height="4.83" fill="#F8766D" stroke="#333" stroke-width="0.5"/>
<line x1="65.8" x2="68.9" y1="464.31" y2="464.31" stroke="#333" stroke-width="0.9"/>
<circle cx="70.72" cy="301.72" r="1.25" fill="#111"/>
<line x1="70.5" x2="70.5" y1="418.94" y2="430.14" stroke="#666" stroke-width="0.85"/>
<line x1="70.5" x2="70.5" y1="455.05" y2="464.22" stroke="#666" stroke-width="0.85"/>
<rect x="69.17" y="430.14" width="3.1" height="24.91" fill="#A3A500" stroke="#333" stroke-width="0.5"/>
<line x1="69.17" x2="72.28" y1="442.88" y2="442.88" stroke="#333" stroke-width="0.9"/>
<circle cx="74.1" cy="342.08" r="1.25" fill="#111"/>
<circle cx="74.1" cy="306.84" r="1.25" fill="#111"/>
<line x1="74.5" x2="74.5" y1="430.14" y2="440.56" stroke="#666" stroke-width="0.85"/>
<rect x="72.55" y="440.56" width="3.1" height="24.14" fill="#00BF7D" stroke="#333" stroke-width="0.5"/>
<line x1="72.55" x2="75.65" y1="456.67" y2="456.67" stroke="#333" stroke-width="0.9"/>
<circle cx="77.47" cy="282.41" r="1.25" fill="#111"/>
<line x1="77.5" x2="77.5" y1="355.79" y2="416.1" stroke="#666" stroke-width="0.85"/>
<line x1="77.5" x2="77.5" y1="460.07" y2="464.22" stroke="#666" stroke-width="0.85"/>
<rect x="75.92" y="416.1" width="3.1" height="43.97" fill="#00B0F6" stroke="#333" stroke-width="0.5"/>
<line x1="75.92" x2="79.03" y1="436.89" y2="436.89" stroke="#333" stroke-width="0.9"/>
<circle cx="80.85" cy="416.43" r="1.25" fill="#111"/>
<circle cx="80.85" cy="415.07" r="1.25" fill="#111"/>
<line x1="80.5" x2="80.5" y1="425.89" y2="444.23" stroke="#666" stroke-width="0.85"/>
<line x1="80.5" x2="80.5" y1="460.07" y2="463.02" stroke="#666" stroke-width="0.85"/>
<rect x="79.3" y="444.23" width="3.1" height="15.83" fill="#E76BF3" stroke="#333" stroke-width="0.5"/>
<line x1="79.3" x2="82.4" y1="450.68" y2="450.68" stroke="#333" stroke-width="0.9"/>
<circle cx="89.85" cy="463.54" r="1.25" fill="#111"/>
<circle cx="89.85" cy="462.38" r="1.25" fill="#111"/>
<line x1="88.05" x2="91.65" y1="464.7" y2="464.7" stroke="#2a2a2a" stroke-width="1"/>
<circle cx="93.22" cy="443.07" r="1.25" fill="#111"/>
<circle cx="93.22" cy="426.47" r="1.25" fill="#111"/>
<line x1="93.5" x2="93.5" y1="449.25" y2="455.82" stroke="#666" stroke-width="0.85"/>
<line x1="93.5" x2="93.5" y1="462.38" y2="464.7" stroke="#666" stroke-width="0.85"/>
<rect x="91.67" y="455.82" width="3.1" height="6.57" fill="#A3A500" stroke="#333" stroke-width="0.5"/>
<line x1="91.67" x2="94.78" y1="458.91" y2="458.91" stroke="#333" stroke-width="0.9"/>
<circle cx="96.6" cy="443.07" r="1.25" fill="#111"/>
<rect x="95.05" y="463.73" width="3.1" height="0.97" fill="#00BF7D" stroke="#333" stroke-width="0.5"/>
<line x1="95.05" x2="98.15" y1="464.51" y2="464.51" stroke="#333" stroke-width="0.9"/>
<circle cx="99.97" cy="441.53" r="1.25" fill="#111"/>
<line x1="99.5" x2="99.5" y1="450.41" y2="456.98" stroke="#666" stroke-width="0.85"/>
<line x1="99.5" x2="99.5" y1="462.38" y2="463.73" stroke="#666" stroke-width="0.85"/>
<rect x="98.42" y="456.98" width="3.1" height="5.41" fill="#00B0F6" stroke="#333" stroke-width="0.5"/>
<line x1="98.42" x2="101.53" y1="459.87" y2="459.87" stroke="#333" stroke-width="0.9"/>
<circle cx="103.35" cy="423.18" r="1.25" fill="#111"/>
<line x1="103.5" x2="103.5" y1="441.53" y2="455.05" stroke="#666" stroke-width="0.85"/>
<line x1="103.5" x2="103.5" y1="463.02" y2="464.7" stroke="#666" stroke-width="0.85"/>
<rect x="101.8" y="455.05" width="3.1" height="7.98" fill="#E76BF3" stroke="#333" stroke-width="0.5"/>
<line x1="101.8" x2="104.9" y1="460.64" y2="460.64" stroke="#333" stroke-width="0.9"/>
<circle cx="112.35" cy="463.62" r="1.25" fill="#111"/>
<line x1="110.55" x2="114.15" y1="464.7" y2="464.7" stroke="#2a2a2a" stroke-width="1"/>
<circle cx="115.72" cy="439.98" r="1.25" fill="#111"/>
<circle cx="115.72" cy="436.7" r="1.25" fill="#111"/>
<line x1="115.5" x2="115.5" y1="454.08" y2="458.91" stroke="#666" stroke-width="0.85"/>
<line x1="115.5" x2="115.5" y1="462.38" y2="464.7" stroke="#666" stroke-width="0.85"/>
<rect x="114.17" y="458.91" width="3.1" height="3.48" fill="#A3A500" stroke="#333" stroke-width="0.5"/>
<line x1="114.17" x2="117.28" y1="460.84" y2="460.84" stroke="#333" stroke-width="0.9"/>
<circle cx="119.1" cy="457.94" r="1.25" fill="#111"/>
<circle cx="119.1" cy="443.07" r="1.25" fill="#111"/>
<rect x="117.55" y="462.38" width="3.1" height="2.32" fill="#00BF7D" stroke="#333" stroke-width="0.5"/>
<line x1="117.55" x2="120.65" y1="464.12" y2="464.12" stroke="#333" stroke-width="0.9"/>
<circle cx="122.47" cy="412.95" r="1.25" fill="#111"/>
<line x1="122.5" x2="122.5" y1="441.53" y2="453.5" stroke="#666" stroke-width="0.85"/>
<line x1="122.5" x2="122.5" y1="463.02" y2="464.7" stroke="#666" stroke-width="0.85"/>
<rect x="120.92" y="453.5" width="3.1" height="9.52" fill="#00B0F6" stroke="#333" stroke-width="0.5"/>
<line x1="120.92" x2="124.03" y1="460.64" y2="460.64" stroke="#333" stroke-width="0.9"/>
<circle cx="125.85" cy="435.54" r="1.25" fill="#111"/>
<line x1="125.5" x2="125.5" y1="441.53" y2="453.89" stroke="#666" stroke-width="0.85"/>
<line x1="125.5" x2="125.5" y1="463.02" y2="464.7" stroke="#666" stroke-width="0.85"/>
<rect x="124.3" y="453.89" width="3.1" height="9.13" fill="#E76BF3" stroke="#333" stroke-width="0.5"/>
<line x1="124.3" x2="127.4" y1="461.8" y2="461.8" stroke="#333" stroke-width="0.9"/>
<circle cx="134.85" cy="463.93" r="1.25" fill="#111"/>
<line x1="133.05" x2="136.65" y1="464.7" y2="464.7" stroke="#2a2a2a" stroke-width="1"/>
<line x1="138.5" x2="138.5" y1="454.08" y2="458.91" stroke="#666" stroke-width="0.85"/>
<line x1="138.5" x2="138.5" y1="462.38" y2="464.7" stroke="#666" stroke-width="0.85"/>
<rect x="136.67" y="458.91" width="3.1" height="3.48" fill="#A3A500" stroke="#333" stroke-width="0.5"/>
<line x1="136.67" x2="139.78" y1="460.84" y2="460.84" stroke="#333" stroke-width="0.9"/>
<circle cx="141.6" cy="449.25" r="1.25" fill="#111"/>
<circle cx="141.6" cy="436.7" r="1.25" fill="#111"/>
<line x1="141.5" x2="141.5" y1="460.64" y2="462.38" stroke="#666" stroke-width="0.85"/>
<rect x="140.05" y="462.38" width="3.1" height="2.32" fill="#00BF7D" stroke="#333" stroke-width="0.5"/>
<line x1="140.05" x2="143.15" y1="464.12" y2="464.12" stroke="#333" stroke-width="0.9"/>
<circle cx="144.97" cy="431.1" r="1.25" fill="#111"/>
<line x1="144.5" x2="144.5" y1="444.42" y2="451.96" stroke="#666" stroke-width="0.85"/>
<line x1="144.5" x2="144.5" y1="462.38" y2="464.7" stroke="#666" stroke-width="0.85"/>
<rect x="143.42" y="451.96" width="3.1" height="10.43" fill="#00B0F6" stroke="#333" stroke-width="0.5"/>
<line x1="143.42" x2="146.53" y1="456.67" y2="456.67" stroke="#333" stroke-width="0.9"/>
<circle cx="148.35" cy="435.83" r="1.25" fill="#111"/>
<line x1="148.5" x2="148.5" y1="449.25" y2="454.66" stroke="#666" stroke-width="0.85"/>
<line x1="148.5" x2="148.5" y1="463.62" y2="464.7" stroke="#666" stroke-width="0.85"/>
<rect x="146.8" y="454.66" width="3.1" height="8.96" fill="#E76BF3" stroke="#333" stroke-width="0.5"/>
<line x1="146.8" x2="149.9" y1="461.8" y2="461.8" stroke="#333" stroke-width="0.9"/>
<line x1="155.55" x2="159.15" y1="464.7" y2="464.7" stroke="#2a2a2a" stroke-width="1"/>
<circle cx="160.72" cy="419.32" r="1.25" fill="#111"/>
<circle cx="160.72" cy="385.2" r="1.25" fill="#111"/>
<line x1="160.5" x2="160.5" y1="430.14" y2="448.09" stroke="#666" stroke-width="0.85"/>
<line x1="160.5" x2="160.5" y1="461.8" y2="464.7" stroke="#666" stroke-width="0.85"/>
<rect x="159.17" y="448.09" width="3.1" height="13.71" fill="#A3A500" stroke="#333" stroke-width="0.5"/>
<line x1="159.17" x2="162.28" y1="459.1" y2="459.1" stroke="#333" stroke-width="0.9"/>
<circle cx="164.1" cy="463.62" r="1.25" fill="#111"/>
<circle cx="164.1" cy="462.38" r="1.25" fill="#111"/>
<circle cx="164.1" cy="456.2" r="1.25" fill="#111"/>
<line x1="162.3" x2="165.9" y1="464.7" y2="464.7" stroke="#2a2a2a" stroke-width="1"/>
<circle cx="167.47" cy="437.86" r="1.25" fill="#111"/>
<circle cx="167.47" cy="429.17" r="1.25" fill="#111"/>
<circle cx="167.47" cy="358.11" r="1.25" fill="#111"/>
<line x1="167.5" x2="167.5" y1="453.11" y2="455.24" stroke="#666" stroke-width="0.85"/>
<line x1="167.5" x2="167.5" y1="463.93" y2="464.7" stroke="#666" stroke-width="0.85"/>
<rect x="165.92" y="455.24" width="3.1" height="8.69" fill="#00B0F6" stroke="#333" stroke-width="0.5"/>
<line x1="165.92" x2="169.03" y1="459.1" y2="459.1" stroke="#333" stroke-width="0.9"/>
<circle cx="170.85" cy="422.28" r="1.25" fill="#111"/>
<circle cx="170.85" cy="419.51" r="1.25" fill="#111"/>
<line x1="170.5" x2="170.5" y1="435.83" y2="445.64" stroke="#666" stroke-width="0.85"/>
<line x1="170.5" x2="170.5" y1="460.64" y2="464.7" stroke="#666" stroke-width="0.85"/>
<rect x="169.3" y="445.64" width="3.1" height="15" fill="#E76BF3" stroke="#333" stroke-width="0.5"/>
<line x1="169.3" x2="172.4" y1="453.11" y2="453.11" stroke="#333" stroke-width="0.9"/>
<line x1="178.05" x2="181.65" y1="464.7" y2="464.7" stroke="#2a2a2a" stroke-width="1"/>
<circle cx="183.22" cy="423.57" r="1.25" fill="#111"/>
<circle cx="183.22" cy="415.94" r="1.25" fill="#111"/>
<line x1="183.5" x2="183.5" y1="461.8" y2="463.73" stroke="#666" stroke-width="0.85"/>
<rect x="181.67" y="463.73" width="3.1" height="0.97" fill="#A3A500" stroke="#333" stroke-width="0.5"/>
<line x1="181.67" x2="184.78" y1="464.31" y2="464.31" stroke="#333" stroke-width="0.9"/>
<circle cx="186.6" cy="460.64" r="1.25" fill="#111"/>
<circle cx="186.6" cy="458.91" r="1.25" fill="#111"/>
<line x1="184.8" x2="188.4" y1="464.7" y2="464.7" stroke="#2a2a2a" stroke-width="1"/>
<line x1="189.5" x2="189.5" y1="452.92" y2="458.6" stroke="#666" stroke-width="0.85"/>
<rect x="188.42" y="458.6" width="3.1" height="6.1" fill="#00B0F6" stroke="#333" stroke-width="0.5"/>
<line x1="188.42" x2="191.53" y1="463.02" y2="463.02" stroke="#333" stroke-width="0.9"/>
<line x1="193.5" x2="193.5" y1="455.24" y2="457.94" stroke="#666" stroke-width="0.85"/>
<line x1="193.5" x2="193.5" y1="463.62" y2="464.7" stroke="#666" stroke-width="0.85"/>
<rect x="191.8" y="457.94" width="3.1" height="5.68" fill="#E76BF3" stroke="#333" stroke-width="0.5"/>
<line x1="191.8" x2="194.9" y1="461.8" y2="461.8" stroke="#333" stroke-width="0.9"/>
<circle cx="202.35" cy="463.73" r="1.25" fill="#111"/>
<line x1="200.55" x2="204.15" y1="464.7" y2="464.7" stroke="#2a2a2a" stroke-width="1"/>
<circle cx="205.72" cy="432.26" r="1.25" fill="#111"/>
<circle cx="205.72" cy="415.07" r="1.25" fill="#111"/>
<line x1="205.5" x2="205.5" y1="439.6" y2="452.25" stroke="#666" stroke-width="0.85"/>
<line x1="205.5" x2="205.5" y1="463.62" y2="464.7" stroke="#666" stroke-width="0.85"/>
<rect x="204.17" y="452.25" width="3.1" height="11.37" fill="#A3A500" stroke="#333" stroke-width="0.5"/>
<line x1="204.17" x2="207.28" y1="458.23" y2="458.23" stroke="#333" stroke-width="0.9"/>
<circle cx="209.1" cy="454.08" r="1.25" fill="#111"/>
<circle cx="209.1" cy="446.84" r="1.25" fill="#111"/>
<rect x="207.55" y="463.02" width="3.1" height="1.68" fill="#00BF7D" stroke="#333" stroke-width="0.5"/>
<line x1="207.55" x2="210.65" y1="464.31" y2="464.31" stroke="#333" stroke-width="0.9"/>
<circle cx="212.47" cy="412.37" r="1.25" fill="#111"/>
<line x1="212.5" x2="212.5" y1="427.05" y2="442.69" stroke="#666" stroke-width="0.85"/>
<line x1="212.5" x2="212.5" y1="461.8" y2="464.7" stroke="#666" stroke-width="0.85"/>
<rect x="210.92" y="442.69" width="3.1" height="19.12" fill="#00B0F6" stroke="#333" stroke-width="0.5"/>
<line x1="210.92" x2="214.03" y1="455.47" y2="455.47" stroke="#333" stroke-width="0.9"/>
<line x1="215.5" x2="215.5" y1="437.28" y2="447.8" stroke="#666" stroke-width="0.85"/>
<line x1="215.5" x2="215.5" y1="460.07" y2="463.73" stroke="#666" stroke-width="0.85"/>
<rect x="214.3" y="447.8" width="3.1" height="12.26" fill="#E76BF3" stroke="#333" stroke-width="0.5"/>
<line x1="214.3" x2="217.4" y1="458.23" y2="458.23" stroke="#333" stroke-width="0.9"/>
<line x1="223.05" x2="226.65" y1="464.7" y2="464.7" stroke="#2a2a2a" stroke-width="1"/>
<circle cx="228.22" cy="432.26" r="1.25" fill="#111"/>
<circle cx="228.22" cy="421.06" r="1.25" fill="#111"/>
<line x1="228.5" x2="228.5" y1="451.65" y2="455.47" stroke="#666" stroke-width="0.85"/>
<line x1="228.5" x2="228.5" y1="462.38" y2="464.7" stroke="#666" stroke-width="0.85"/>
<rect x="226.67" y="455.47" width="3.1" height="6.91" fill="#A3A500" stroke="#333" stroke-width="0.5"/>
<line x1="226.67" x2="229.78" y1="459.49" y2="459.49" stroke="#333" stroke-width="0.9"/>
<circle cx="231.6" cy="463.54" r="1.25" fill="#111"/>
<circle cx="231.6" cy="461.8" r="1.25" fill="#111"/>
<circle cx="231.6" cy="460.07" r="1.25" fill="#111"/>
<line x1="229.8" x2="233.4" y1="464.7" y2="464.7" stroke="#2a2a2a" stroke-width="1"/>
<line x1="234.5" x2="234.5" y1="355.02" y2="412.95" stroke="#666" stroke-width="0.85"/>
<line x1="234.5" x2="234.5" y1="461.03" y2="464.22" stroke="#666" stroke-width="0.85"/>
<rect x="233.42" y="412.95" width="3.1" height="48.08" fill="#00B0F6" stroke="#333" stroke-width="0.5"/>
<line x1="233.42" x2="236.53" y1="448.48" y2="448.48" stroke="#333" stroke-width="0.9"/>
<line x1="238.5" x2="238.5" y1="394.22" y2="417.85" stroke="#666" stroke-width="0.85"/>
<line x1="238.5" x2="238.5" y1="449.25" y2="461.22" stroke="#666" stroke-width="0.85"/>
<rect x="236.8" y="417.85" width="3.1" height="31.4" fill="#E76BF3" stroke="#333" stroke-width="0.5"/>
<line x1="236.8" x2="239.9" y1="439.6" y2="439.6" stroke="#333" stroke-width="0.9"/>
<circle cx="247.35" cy="463.35" r="1.25" fill="#111"/>
<line x1="245.55" x2="249.15" y1="464.7" y2="464.7" stroke="#2a2a2a" stroke-width="1"/>
<circle cx="250.72" cy="439.98" r="1.25" fill="#111"/>
<circle cx="250.72" cy="432.26" r="1.25" fill="#111"/>
<line x1="250.5" x2="250.5" y1="458.23" y2="459.87" stroke="#666" stroke-width="0.85"/>
<line x1="250.5" x2="250.5" y1="464.22" y2="464.7" stroke="#666" stroke-width="0.85"/>
<rect x="249.17" y="459.87" width="3.1" height="4.34" fill="#A3A500" stroke="#333" stroke-width="0.5"/>
<line x1="249.17" x2="252.28" y1="462.77" y2="462.77" stroke="#333" stroke-width="0.9"/>
<circle cx="254.1" cy="461.22" r="1.25" fill="#111"/>
<circle cx="254.1" cy="455.24" r="1.25" fill="#111"/>
<line x1="252.3" x2="255.9" y1="464.7" y2="464.7" stroke="#2a2a2a" stroke-width="1"/>
<line x1="257.5" x2="257.5" y1="453.5" y2="457.63" stroke="#666" stroke-width="0.85"/>
<line x1="257.5" x2="257.5" y1="462.38" y2="464.22" stroke="#666" stroke-width="0.85"/>
<rect x="255.92" y="457.63" width="3.1" height="4.75" fill="#00B0F6" stroke="#333" stroke-width="0.5"/>
<line x1="255.92" x2="259.03" y1="460.64" y2="460.64" stroke="#333" stroke-width="0.9"/>
<circle cx="260.85" cy="453.5" r="1.25" fill="#111"/>
<line x1="260.5" x2="260.5" y1="457.63" y2="460.07" stroke="#666" stroke-width="0.85"/>
<line x1="260.5" x2="260.5" y1="463.02" y2="464.7" stroke="#666" stroke-width="0.85"/>
<rect x="259.3" y="460.07" width="3.1" height="2.95" fill="#E76BF3" stroke="#333" stroke-width="0.5"/>
<line x1="259.3" x2="262.4" y1="461.8" y2="461.8" stroke="#333" stroke-width="0.9"/>
<text transform="translate(151.8 498.2) scale(0.94 1)" text-anchor="middle" font-size="10.0" fill="#000" stroke="#000" stroke-width="0.15">Park</text>
<text transform="translate(12.4 372.8) rotate(-90) scale(0.975 1)" text-anchor="middle" font-size="10.0" fill="#000" stroke="#000" stroke-width="0.15">Duration (min)</text>
<text x="61.8" y="280.3" text-anchor="middle" font-size="9.2" font-weight="bold" font-family="'Liberation Serif',serif" fill="#000">C</text>
</g>
<g>
<rect x="309.4" y="260.3" width="229.8" height="211.6" fill="#ebebeb"/>
<line x1="309.4" x2="539.2" y1="438.72" y2="438.72" stroke="#fff" stroke-width="0.5"/>
<line x1="309.4" x2="539.2" y1="390.38" y2="390.38" stroke="#fff" stroke-width="0.5"/>
<line x1="309.4" x2="539.2" y1="342.02" y2="342.02" stroke="#fff" stroke-width="0.5"/>
<line x1="309.4" x2="539.2" y1="293.67" y2="293.67" stroke="#fff" stroke-width="0.5"/>
<line x1="309.4" x2="539.2" y1="462.9" y2="462.9" stroke="#fff" stroke-width="0.75"/>
<line x1="307.2" x2="309.4" y1="462.9" y2="462.9" stroke="#333" stroke-width="0.5"/>
<text transform="translate(305.9 467.1) scale(0.87 1)" text-anchor="end" font-size="8.8" fill="#4d4d4d">0</text>
<line x1="309.4" x2="539.2" y1="414.55" y2="414.55" stroke="#fff" stroke-width="0.75"/>
<line x1="307.2" x2="309.4" y1="414.55" y2="414.55" stroke="#333" stroke-width="0.5"/>
<text transform="translate(305.9 418.75) scale(0.87 1)" text-anchor="end" font-size="8.8" fill="#4d4d4d">250</text>
<line x1="309.4" x2="539.2" y1="366.2" y2="366.2" stroke="#fff" stroke-width="0.75"/>
<line x1="307.2" x2="309.4" y1="366.2" y2="366.2" stroke="#333" stroke-width="0.5"/>
<text transform="translate(305.9 370.4) scale(0.87 1)" text-anchor="end" font-size="8.8" fill="#4d4d4d">500</text>
<line x1="309.4" x2="539.2" y1="317.85" y2="317.85" stroke="#fff" stroke-width="0.75"/>
<line x1="307.2" x2="309.4" y1="317.85" y2="317.85" stroke="#333" stroke-width="0.5"/>
<text transform="translate(305.9 322.05) scale(0.87 1)" text-anchor="end" font-size="8.8" fill="#4d4d4d">750</text>
<line x1="309.4" x2="539.2" y1="269.5" y2="269.5" stroke="#fff" stroke-width="0.75"/>
<line x1="307.2" x2="309.4" y1="269.5" y2="269.5" stroke="#333" stroke-width="0.5"/>
<text transform="translate(304.3 273.7) scale(0.87 1)" text-anchor="end" font-size="8.8" fill="#4d4d4d">1000</text>
<line x1="323.3" x2="323.3" y1="260.3" y2="471.9" stroke="#fff" stroke-width="0.75"/>
<line x1="323.3" x2="323.3" y1="471.9" y2="474.1" stroke="#333" stroke-width="0.5"/>
<text transform="translate(323.3 482.2) scale(0.91 1)" text-anchor="middle" font-size="8.8" fill="#4d4d4d">BC</text>
<line x1="345.8" x2="345.8" y1="260.3" y2="471.9" stroke="#fff" stroke-width="0.75"/>
<line x1="345.8" x2="345.8" y1="471.9" y2="474.1" stroke="#333" stroke-width="0.5"/>
<text transform="translate(345.8 482.2) scale(0.91 1)" text-anchor="middle" font-size="8.8" fill="#4d4d4d">FP</text>
<line x1="368.3" x2="368.3" y1="260.3" y2="471.9" stroke="#fff" stroke-width="0.75"/>
<line x1="368.3" x2="368.3" y1="471.9" y2="474.1" stroke="#333" stroke-width="0.5"/>
<text transform="translate(368.3 482.2) scale(0.91 1)" text-anchor="middle" font-size="8.8" fill="#4d4d4d">GS</text>
<line x1="390.8" x2="390.8" y1="260.3" y2="471.9" stroke="#fff" stroke-width="0.75"/>
<line x1="390.8" x2="390.8" y1="471.9" y2="474.1" stroke="#333" stroke-width="0.5"/>
<text transform="translate(390.8 482.2) scale(0.91 1)" text-anchor="middle" font-size="8.8" fill="#1a1a1a" stroke="#1a1a1a" stroke-width="0.08">FV</text>
<line x1="413.3" x2="413.3" y1="260.3" y2="471.9" stroke="#fff" stroke-width="0.75"/>
<line x1="413.3" x2="413.3" y1="471.9" y2="474.1" stroke="#333" stroke-width="0.5"/>
<text transform="translate(413.3 482.2) scale(0.91 1)" text-anchor="middle" font-size="8.8" fill="#4d4d4d">LP</text>
<line x1="435.8" x2="435.8" y1="260.3" y2="471.9" stroke="#fff" stroke-width="0.75"/>
<line x1="435.8" x2="435.8" y1="471.9" y2="474.1" stroke="#333" stroke-width="0.5"/>
<text transform="translate(435.8 482.2) scale(0.91 1)" text-anchor="middle" font-size="8.8" fill="#1a1a1a" stroke="#1a1a1a" stroke-width="0.08">LF</text>
<line x1="458.3" x2="458.3" y1="260.3" y2="471.9" stroke="#fff" stroke-width="0.75"/>
<line x1="458.3" x2="458.3" y1="471.9" y2="474.1" stroke="#333" stroke-width="0.5"/>
<text transform="translate(458.3 482.2) scale(0.91 1)" text-anchor="middle" font-size="8.8" fill="#4d4d4d">MP</text>
<line x1="480.8" x2="480.8" y1="260.3" y2="471.9" stroke="#fff" stroke-width="0.75"/>
<line x1="480.8" x2="480.8" y1="471.9" y2="474.1" stroke="#333" stroke-width="0.5"/>
<text transform="translate(480.8 482.2) scale(0.91 1)" text-anchor="middle" font-size="8.8" fill="#4d4d4d">QP</text>
<line x1="503.3" x2="503.3" y1="260.3" y2="471.9" stroke="#fff" stroke-width="0.75"/>
<line x1="503.3" x2="503.3" y1="471.9" y2="474.1" stroke="#333" stroke-width="0.5"/>
<text transform="translate(503.3 482.2) scale(0.91 1)" text-anchor="middle" font-size="8.8" fill="#4d4d4d">SC</text>
<line x1="525.8" x2="525.8" y1="260.3" y2="471.9" stroke="#fff" stroke-width="0.75"/>
<line x1="525.8" x2="525.8" y1="471.9" y2="474.1" stroke="#333" stroke-width="0.5"/>
<text transform="translate(525.8 482.2) scale(0.91 1)" text-anchor="middle" font-size="8.8" fill="#4d4d4d">WM</text>
<circle cx="316.55" cy="461.74" r="1.25" fill="#111"/>
<circle cx="316.55" cy="451.68" r="1.25" fill="#111"/>
<circle cx="316.55" cy="444.14" r="1.25" fill="#111"/>
<line x1="314.75" x2="318.35" y1="462.9" y2="462.9" stroke="#2a2a2a" stroke-width="1"/>
<circle cx="319.93" cy="390.76" r="1.25" fill="#111"/>
<line x1="319.5" x2="319.5" y1="423.25" y2="438.72" stroke="#666" stroke-width="0.85"/>
<line x1="319.5" x2="319.5" y1="453.69" y2="460.27" stroke="#666" stroke-width="0.85"/>
<rect x="318.37" y="438.72" width="3.1" height="14.97" fill="#A3A500" stroke="#333" stroke-width="0.5"/>
<line x1="318.37" x2="321.48" y1="450.72" y2="450.72" stroke="#333" stroke-width="0.9"/>
<circle cx="323.3" cy="451.68" r="1.25" fill="#111"/>
<circle cx="323.3" cy="449.75" r="1.25" fill="#111"/>
<circle cx="323.3" cy="431.38" r="1.25" fill="#111"/>
<rect x="321.75" y="460.27" width="3.1" height="2.63" fill="#00BF7D" stroke="#333" stroke-width="0.5"/>
<line x1="321.75" x2="324.85" y1="462.32" y2="462.32" stroke="#333" stroke-width="0.9"/>
<line x1="326.5" x2="326.5" y1="279.17" y2="309.34" stroke="#666" stroke-width="0.85"/>
<line x1="326.5" x2="326.5" y1="434.55" y2="462.9" stroke="#666" stroke-width="0.85"/>
<rect x="325.12" y="309.34" width="3.1" height="125.21" fill="#00B0F6" stroke="#333" stroke-width="0.5"/>
<line x1="325.12" x2="328.23" y1="359.04" y2="359.04" stroke="#333" stroke-width="0.9"/>
<line x1="330.5" x2="330.5" y1="353.63" y2="383.22" stroke="#666" stroke-width="0.85"/>
<line x1="330.5" x2="330.5" y1="426.73" y2="462.9" stroke="#666" stroke-width="0.85"/>
<rect x="328.5" y="383.22" width="3.1" height="43.51" fill="#E76BF3" stroke="#333" stroke-width="0.5"/>
<line x1="328.5" x2="331.6" y1="409.13" y2="409.13" stroke="#333" stroke-width="0.9"/>
<circle cx="339.05" cy="321.33" r="1.25" fill="#111"/>
<line x1="339.5" x2="339.5" y1="421.4" y2="435.44" stroke="#666" stroke-width="0.85"/>
<rect x="337.5" y="435.44" width="3.1" height="27.46" fill="#F8766D" stroke="#333" stroke-width="0.5"/>
<line x1="337.5" x2="340.6" y1="462.9" y2="462.9" stroke="#333" stroke-width="0.9"/>
<line x1="342.5" x2="342.5" y1="371.09" y2="398.69" stroke="#666" stroke-width="0.85"/>
<line x1="342.5" x2="342.5" y1="444.14" y2="462.9" stroke="#666" stroke-width="0.85"/>
<rect x="340.57" y="444.14" width="4" height="18.76" fill="#bdbdbd"/>
<rect x="340.87" y="398.69" width="3.1" height="45.45" fill="#A3A500" stroke="#333" stroke-width="0.5"/>
<line x1="340.87" x2="343.98" y1="428.92" y2="428.92" stroke="#333" stroke-width="0.9"/>
<circle cx="345.8" cy="293.48" r="1.25" fill="#111"/>
<line x1="345.5" x2="345.5" y1="357.88" y2="410.68" stroke="#666" stroke-width="0.85"/>
<rect x="344.25" y="410.68" width="3.1" height="52.22" fill="#00BF7D" stroke="#333" stroke-width="0.5"/>
<line x1="344.25" x2="347.35" y1="440.52" y2="440.52" stroke="#333" stroke-width="0.9"/>
<line x1="349.5" x2="349.5" y1="370.45" y2="404.4" stroke="#666" stroke-width="0.85"/>
<line x1="349.5" x2="349.5" y1="458.45" y2="462.9" stroke="#666" stroke-width="0.85"/>
<rect x="347.62" y="404.4" width="3.1" height="54.06" fill="#00B0F6" stroke="#333" stroke-width="0.5"/>
<line x1="347.62" x2="350.73" y1="411.65" y2="411.65" stroke="#333" stroke-width="0.9"/>
<line x1="352.5" x2="352.5" y1="367.94" y2="401.21" stroke="#666" stroke-width="0.85"/>
<line x1="352.5" x2="352.5" y1="441.72" y2="460.27" stroke="#666" stroke-width="0.85"/>
<rect x="351" y="401.21" width="3.1" height="40.52" fill="#E76BF3" stroke="#333" stroke-width="0.5"/>
<line x1="351" x2="354.1" y1="424.22" y2="424.22" stroke="#333" stroke-width="0.9"/>
<circle cx="361.55" cy="454.58" r="1.25" fill="#111"/>
<circle cx="361.55" cy="453.69" r="1.25" fill="#111"/>
<circle cx="361.55" cy="448.98" r="1.25" fill="#111"/>
<line x1="359.75" x2="363.35" y1="462.9" y2="462.9" stroke="#2a2a2a" stroke-width="1"/>
<circle cx="364.93" cy="416" r="1.25" fill="#111"/>
<line x1="364.5" x2="364.5" y1="434.55" y2="448.3" stroke="#666" stroke-width="0.85"/>
<line x1="364.5" x2="364.5" y1="458.45" y2="462.9" stroke="#666" stroke-width="0.85"/>
<rect x="363.37" y="448.3" width="3.1" height="10.15" fill="#A3A500" stroke="#333" stroke-width="0.5"/>
<line x1="363.37" x2="366.48" y1="455.24" y2="455.24" stroke="#333" stroke-width="0.9"/>
<circle cx="368.3" cy="459.32" r="1.25" fill="#111"/>
<circle cx="368.3" cy="437.18" r="1.25" fill="#111"/>
<circle cx="368.3" cy="416.97" r="1.25" fill="#111"/>
<line x1="366.5" x2="370.1" y1="462.9" y2="462.9" stroke="#2a2a2a" stroke-width="1"/>
<line x1="371.5" x2="371.5" y1="398.69" y2="431.96" stroke="#666" stroke-width="0.85"/>
<line x1="371.5" x2="371.5" y1="458.84" y2="462.9" stroke="#666" stroke-width="0.85"/>
<rect x="370.12" y="431.96" width="3.1" height="26.88" fill="#00B0F6" stroke="#333" stroke-width="0.5"/>
<line x1="370.12" x2="373.23" y1="446.85" y2="446.85" stroke="#333" stroke-width="0.9"/>
<circle cx="375.05" cy="412.42" r="1.25" fill="#111"/>
<circle cx="375.05" cy="409.13" r="1.25" fill="#111"/>
<circle cx="375.05" cy="407.66" r="1.25" fill="#111"/>
<line x1="375.5" x2="375.5" y1="439.31" y2="443.56" stroke="#666" stroke-width="0.85"/>
<line x1="375.5" x2="375.5" y1="458.45" y2="461.35" stroke="#666" stroke-width="0.85"/>
<rect x="373.5" y="443.56" width="3.1" height="14.89" fill="#E76BF3" stroke="#333" stroke-width="0.5"/>
<line x1="373.5" x2="376.6" y1="456.52" y2="456.52" stroke="#333" stroke-width="0.9"/>
<circle cx="384.05" cy="461.74" r="1.25" fill="#111"/>
<circle cx="384.05" cy="460.27" r="1.25" fill="#111"/>
<circle cx="384.05" cy="453.69" r="1.25" fill="#111"/>
<line x1="382.25" x2="385.85" y1="462.9" y2="462.9" stroke="#2a2a2a" stroke-width="1"/>
<circle cx="387.43" cy="429.83" r="1.25" fill="#111"/>
<circle cx="387.43" cy="399.66" r="1.25" fill="#111"/>
<circle cx="387.43" cy="382.25" r="1.25" fill="#111"/>
<line x1="387.5" x2="387.5" y1="449.36" y2="450.52" stroke="#666" stroke-width="0.85"/>
<line x1="387.5" x2="387.5" y1="460.87" y2="462.9" stroke="#666" stroke-width="0.85"/>
<rect x="385.87" y="450.52" width="3.1" height="10.35" fill="#A3A500" stroke="#333" stroke-width="0.5"/>
<line x1="385.87" x2="388.98" y1="455.55" y2="455.55" stroke="#333" stroke-width="0.9"/>
<circle cx="390.8" cy="443.75" r="1.25" fill="#111"/>
<line x1="390.5" x2="390.5" y1="453.69" y2="459.67" stroke="#666" stroke-width="0.85"/>
<rect x="389.25" y="459.67" width="3.1" height="3.23" fill="#00BF7D" stroke="#333" stroke-width="0.5"/>
<line x1="389.25" x2="392.35" y1="462.32" y2="462.32" stroke="#333" stroke-width="0.9"/>
<circle cx="394.18" cy="378" r="1.25" fill="#111"/>
<circle cx="394.18" cy="336.49" r="1.25" fill="#111"/>
<line x1="394.5" x2="394.5" y1="423.25" y2="429.83" stroke="#666" stroke-width="0.85"/>
<line x1="394.5" x2="394.5" y1="454.58" y2="462.9" stroke="#666" stroke-width="0.85"/>
<rect x="392.62" y="429.83" width="3.1" height="24.76" fill="#00B0F6" stroke="#333" stroke-width="0.5"/>
<line x1="392.62" x2="395.73" y1="441.12" y2="441.12" stroke="#333" stroke-width="0.9"/>
<circle cx="397.55" cy="417.84" r="1.25" fill="#111"/>
<line x1="397.5" x2="397.5" y1="430.41" y2="447.12" stroke="#666" stroke-width="0.85"/>
<line x1="397.5" x2="397.5" y1="458.45" y2="461.35" stroke="#666" stroke-width="0.85"/>
<rect x="396" y="447.12" width="3.1" height="11.33" fill="#E76BF3" stroke="#333" stroke-width="0.5"/>
<line x1="396" x2="399.1" y1="450.91" y2="450.91" stroke="#333" stroke-width="0.9"/>
<circle cx="406.55" cy="458.12" r="1.25" fill="#111"/>
<line x1="404.75" x2="408.35" y1="462.9" y2="462.9" stroke="#2a2a2a" stroke-width="1"/>
<circle cx="409.93" cy="409.33" r="1.25" fill="#111"/>
<line x1="409.5" x2="409.5" y1="446.52" y2="453.09" stroke="#666" stroke-width="0.85"/>
<line x1="409.5" x2="409.5" y1="458.84" y2="462.9" stroke="#666" stroke-width="0.85"/>
<rect x="408.37" y="453.09" width="3.1" height="5.74" fill="#A3A500" stroke="#333" stroke-width="0.5"/>
<line x1="408.37" x2="411.48" y1="456.13" y2="456.13" stroke="#333" stroke-width="0.9"/>
<circle cx="413.3" cy="461.55" r="1.25" fill="#111"/>
<circle cx="413.3" cy="446.15" r="1.25" fill="#111"/>
<circle cx="413.3" cy="442.98" r="1.25" fill="#111"/>
<line x1="411.5" x2="415.1" y1="462.9" y2="462.9" stroke="#2a2a2a" stroke-width="1"/>
<circle cx="416.68" cy="381.09" r="1.25" fill="#111"/>
<circle cx="416.68" cy="334.1" r="1.25" fill="#111"/>
<circle cx="416.68" cy="329.84" r="1.25" fill="#111"/>
<line x1="416.5" x2="416.5" y1="414.82" y2="433.7" stroke="#666" stroke-width="0.85"/>
<line x1="416.5" x2="416.5" y1="454.29" y2="462.9" stroke="#666" stroke-width="0.85"/>
<rect x="415.12" y="433.7" width="3.1" height="20.6" fill="#00B0F6" stroke="#333" stroke-width="0.5"/>
<line x1="415.12" x2="418.23" y1="450.91" y2="450.91" stroke="#333" stroke-width="0.9"/>
<circle cx="420.05" cy="409.33" r="1.25" fill="#111"/>
<circle cx="420.05" cy="402.95" r="1.25" fill="#111"/>
<circle cx="420.05" cy="401.21" r="1.25" fill="#111"/>
<line x1="420.5" x2="420.5" y1="445.88" y2="448.3" stroke="#666" stroke-width="0.85"/>
<line x1="420.5" x2="420.5" y1="458.84" y2="462.9" stroke="#666" stroke-width="0.85"/>
<rect x="418.5" y="448.3" width="3.1" height="10.54" fill="#E76BF3" stroke="#333" stroke-width="0.5"/>
<line x1="418.5" x2="421.6" y1="454.58" y2="454.58" stroke="#333" stroke-width="0.9"/>
<line x1="427.25" x2="430.85" y1="462.9" y2="462.9" stroke="#2a2a2a" stroke-width="1"/>
<line x1="432.5" x2="432.5" y1="386.12" y2="418.22" stroke="#666" stroke-width="0.85"/>
<line x1="432.5" x2="432.5" y1="459.03" y2="462.9" stroke="#666" stroke-width="0.85"/>
<rect x="430.87" y="418.22" width="3.1" height="40.81" fill="#A3A500" stroke="#333" stroke-width="0.5"/>
<line x1="430.87" x2="433.98" y1="444.53" y2="444.53" stroke="#333" stroke-width="0.9"/>
<circle cx="435.8" cy="461.55" r="1.25" fill="#111"/>
<circle cx="435.8" cy="460" r="1.25" fill="#111"/>
<circle cx="435.8" cy="458.45" r="1.25" fill="#111"/>
<circle cx="435.8" cy="405.65" r="1.25" fill="#111"/>
<line x1="434" x2="437.6" y1="462.9" y2="462.9" stroke="#2a2a2a" stroke-width="1"/>
<circle cx="439.18" cy="374.71" r="1.25" fill="#111"/>
<line x1="439.5" x2="439.5" y1="411.65" y2="423.45" stroke="#666" stroke-width="0.85"/>
<line x1="439.5" x2="439.5" y1="452.46" y2="461.55" stroke="#666" stroke-width="0.85"/>
<rect x="437.62" y="423.45" width="3.1" height="29.01" fill="#00B0F6" stroke="#333" stroke-width="0.5"/>
<line x1="437.62" x2="440.73" y1="445.69" y2="445.69" stroke="#333" stroke-width="0.9"/>
<line x1="442.5" x2="442.5" y1="359.04" y2="410.3" stroke="#666" stroke-width="0.85"/>
<line x1="442.5" x2="442.5" y1="455.74" y2="461.55" stroke="#666" stroke-width="0.85"/>
<rect x="441" y="410.3" width="3.1" height="45.45" fill="#E76BF3" stroke="#333" stroke-width="0.5"/>
<line x1="441" x2="444.1" y1="453.69" y2="453.69" stroke="#333" stroke-width="0.9"/>
<line x1="449.75" x2="453.35" y1="462.9" y2="462.9" stroke="#2a2a2a" stroke-width="1"/>
<circle cx="454.93" cy="416" r="1.25" fill="#111"/>
<line x1="454.5" x2="454.5" y1="455.55" y2="459.67" stroke="#666" stroke-width="0.85"/>
<rect x="453.37" y="459.67" width="3.1" height="3.23" fill="#A3A500" stroke="#333" stroke-width="0.5"/>
<line x1="453.37" x2="456.48" y1="462.32" y2="462.32" stroke="#333" stroke-width="0.9"/>
<circle cx="458.3" cy="453.69" r="1.25" fill="#111"/>
<line x1="456.5" x2="460.1" y1="462.9" y2="462.9" stroke="#2a2a2a" stroke-width="1"/>
<circle cx="461.68" cy="386.7" r="1.25" fill="#111"/>
<line x1="461.5" x2="461.5" y1="445.69" y2="446.85" stroke="#666" stroke-width="0.85"/>
<rect x="460.12" y="446.85" width="3.1" height="16.05" fill="#00B0F6" stroke="#333" stroke-width="0.5"/>
<line x1="460.12" x2="463.23" y1="455.74" y2="455.74" stroke="#333" stroke-width="0.9"/>
<circle cx="465.05" cy="423.25" r="1.25" fill="#111"/>
<line x1="465.5" x2="465.5" y1="450.14" y2="454.04" stroke="#666" stroke-width="0.85"/>
<line x1="465.5" x2="465.5" y1="460.27" y2="462.9" stroke="#666" stroke-width="0.85"/>
<rect x="463.5" y="454.04" width="3.1" height="6.23" fill="#E76BF3" stroke="#333" stroke-width="0.5"/>
<line x1="463.5" x2="466.6" y1="457.68" y2="457.68" stroke="#333" stroke-width="0.9"/>
<circle cx="474.05" cy="461.74" r="1.25" fill="#111"/>
<circle cx="474.05" cy="460.87" r="1.25" fill="#111"/>
<line x1="472.25" x2="475.85" y1="462.9" y2="462.9" stroke="#2a2a2a" stroke-width="1"/>
<circle cx="477.43" cy="360.01" r="1.25" fill="#111"/>
<line x1="477.5" x2="477.5" y1="420.8" y2="439.31" stroke="#666" stroke-width="0.85"/>
<line x1="477.5" x2="477.5" y1="456.71" y2="462.9" stroke="#666" stroke-width="0.85"/>
<rect x="475.87" y="439.31" width="3.1" height="17.41" fill="#A3A500" stroke="#333" stroke-width="0.5"/>
<line x1="475.87" x2="478.98" y1="449.56" y2="449.56" stroke="#333" stroke-width="0.9"/>
<line x1="480.5" x2="480.5" y1="429.25" y2="448.3" stroke="#666" stroke-width="0.85"/>
<rect x="479.25" y="448.3" width="3.1" height="14.6" fill="#00BF7D" stroke="#333" stroke-width="0.5"/>
<line x1="479.25" x2="482.35" y1="460.97" y2="460.97" stroke="#333" stroke-width="0.9"/>
<line x1="484.5" x2="484.5" y1="386.7" y2="406.62" stroke="#666" stroke-width="0.85"/>
<line x1="484.5" x2="484.5" y1="455.74" y2="462.9" stroke="#666" stroke-width="0.85"/>
<rect x="482.62" y="406.62" width="3.1" height="49.12" fill="#00B0F6" stroke="#333" stroke-width="0.5"/>
<line x1="482.62" x2="485.73" y1="445.88" y2="445.88" stroke="#333" stroke-width="0.9"/>
<line x1="487.5" x2="487.5" y1="431.57" y2="444.14" stroke="#666" stroke-width="0.85"/>
<line x1="487.5" x2="487.5" y1="459.03" y2="462.9" stroke="#666" stroke-width="0.85"/>
<rect x="486" y="444.14" width="3.1" height="14.89" fill="#E76BF3" stroke="#333" stroke-width="0.5"/>
<line x1="486" x2="489.1" y1="451.3" y2="451.3" stroke="#333" stroke-width="0.9"/>
<line x1="494.75" x2="498.35" y1="462.9" y2="462.9" stroke="#2a2a2a" stroke-width="1"/>
<line x1="499.5" x2="499.5" y1="418.22" y2="439.69" stroke="#666" stroke-width="0.85"/>
<rect x="498.37" y="439.69" width="3.1" height="23.21" fill="#A3A500" stroke="#333" stroke-width="0.5"/>
<line x1="498.37" x2="501.48" y1="454.04" y2="454.04" stroke="#333" stroke-width="0.9"/>
<circle cx="503.3" cy="461.74" r="1.25" fill="#111"/>
<circle cx="503.3" cy="448.3" r="1.25" fill="#111"/>
<circle cx="503.3" cy="444.72" r="1.25" fill="#111"/>
<line x1="501.5" x2="505.1" y1="462.9" y2="462.9" stroke="#2a2a2a" stroke-width="1"/>
<line x1="506.5" x2="506.5" y1="313.6" y2="365.7" stroke="#666" stroke-width="0.85"/>
<line x1="506.5" x2="506.5" y1="437.76" y2="462.9" stroke="#666" stroke-width="0.85"/>
<rect x="505.12" y="365.7" width="3.1" height="72.06" fill="#00B0F6" stroke="#333" stroke-width="0.5"/>
<line x1="505.12" x2="508.23" y1="393.08" y2="393.08" stroke="#333" stroke-width="0.9"/>
<line x1="510.5" x2="510.5" y1="339.9" y2="387.67" stroke="#666" stroke-width="0.85"/>
<line x1="510.5" x2="510.5" y1="427.7" y2="439.31" stroke="#666" stroke-width="0.85"/>
<rect x="508.5" y="387.67" width="3.1" height="40.03" fill="#E76BF3" stroke="#333" stroke-width="0.5"/>
<line x1="508.5" x2="511.6" y1="408.75" y2="408.75" stroke="#333" stroke-width="0.9"/>
<circle cx="519.05" cy="453.69" r="1.25" fill="#111"/>
<line x1="517.25" x2="520.85" y1="462.9" y2="462.9" stroke="#2a2a2a" stroke-width="1"/>
<line x1="522.5" x2="522.5" y1="441.72" y2="450.52" stroke="#666" stroke-width="0.85"/>
<line x1="522.5" x2="522.5" y1="461.74" y2="462.9" stroke="#666" stroke-width="0.85"/>
<rect x="520.87" y="450.52" width="3.1" height="11.22" fill="#A3A500" stroke="#333" stroke-width="0.5"/>
<line x1="520.87" x2="523.98" y1="459.67" y2="459.67" stroke="#333" stroke-width="0.9"/>
<circle cx="525.8" cy="454.97" r="1.25" fill="#111"/>
<circle cx="525.8" cy="451.68" r="1.25" fill="#111"/>
<line x1="524" x2="527.6" y1="462.9" y2="462.9" stroke="#2a2a2a" stroke-width="1"/>
<circle cx="529.17" cy="422.29" r="1.25" fill="#111"/>
<circle cx="529.17" cy="406.62" r="1.25" fill="#111"/>
<line x1="529.5" x2="529.5" y1="444.53" y2="448.98" stroke="#666" stroke-width="0.85"/>
<rect x="527.62" y="448.98" width="3.1" height="13.92" fill="#00B0F6" stroke="#333" stroke-width="0.5"/>
<line x1="527.62" x2="530.73" y1="457.87" y2="457.87" stroke="#333" stroke-width="0.9"/>
<circle cx="532.55" cy="430.02" r="1.25" fill="#111"/>
<line x1="532.5" x2="532.5" y1="433.89" y2="449.56" stroke="#666" stroke-width="0.85"/>
<line x1="532.5" x2="532.5" y1="461.22" y2="462.9" stroke="#666" stroke-width="0.85"/>
<rect x="531" y="449.56" width="3.1" height="11.66" fill="#E76BF3" stroke="#333" stroke-width="0.5"/>
<line x1="531" x2="534.1" y1="455.55" y2="455.55" stroke="#333" stroke-width="0.9"/>
<text transform="translate(426.4 497.3) scale(0.94 1)" text-anchor="middle" font-size="10.0" fill="#000" stroke="#000" stroke-width="0.15">Park</text>
<text transform="translate(281.4 375.9) rotate(-90) scale(0.975 1)" text-anchor="middle" font-size="10.0" fill="#000" stroke="#000" stroke-width="0.15">Duration (min)</text>
<text x="335.2" y="278.3" text-anchor="middle" font-size="9.2" font-weight="bold" font-family="'Liberation Serif',serif" fill="#000">D</text>
</g>
<g>
<text transform="translate(137.4 11.5) scale(0.905 1)" text-anchor="start" font-size="8.1" fill="#000" stroke="#000" stroke-width="0.12">Behavior Type</text>
<rect x="196.8" y="4.6" width="9" height="8.4" fill="#f2f2f2"/>
<line x1="201.4" x2="201.4" y1="4.9" y2="12.8" stroke="#333" stroke-width="0.6"/>
<rect x="197.3" y="6" width="8.2" height="5.6" fill="#F8766D" stroke="#333" stroke-width="0.5"/>
<line x1="197.3" x2="205.5" y1="8.8" y2="8.8" stroke="#333" stroke-width="0.8"/>
<text transform="translate(208 11.5) scale(0.905 1)" text-anchor="start" font-size="8.1" fill="#000" stroke="#000" stroke-width="0.12">Exercise</text>
<rect x="238.1" y="4.6" width="9" height="8.4" fill="#f2f2f2"/>
<line x1="242.7" x2="242.7" y1="4.9" y2="12.8" stroke="#333" stroke-width="0.6"/>
<rect x="238.6" y="6" width="8.2" height="5.6" fill="#A3A500" stroke="#333" stroke-width="0.5"/>
<line x1="238.6" x2="246.8" y1="8.8" y2="8.8" stroke="#333" stroke-width="0.8"/>
<text transform="translate(249.2 11.5) scale(0.905 1)" text-anchor="start" font-size="8.1" fill="#000" stroke="#000" stroke-width="0.12">Rest</text>
<rect x="266.6" y="4.6" width="9" height="8.4" fill="#f2f2f2"/>
<line x1="271.2" x2="271.2" y1="4.9" y2="12.8" stroke="#333" stroke-width="0.6"/>
<rect x="267.1" y="6" width="8.2" height="5.6" fill="#00BF7D" stroke="#333" stroke-width="0.5"/>
<line x1="267.1" x2="275.3" y1="8.8" y2="8.8" stroke="#333" stroke-width="0.8"/>
<text transform="translate(277.7 11.5) scale(0.905 1)" text-anchor="start" font-size="8.1" fill="#000" stroke="#000" stroke-width="0.12">Recreation</text>
<rect x="318.2" y="4.6" width="9" height="8.4" fill="#f2f2f2"/>
<line x1="322.8" x2="322.8" y1="4.9" y2="12.8" stroke="#333" stroke-width="0.6"/>
<rect x="318.7" y="6" width="8.2" height="5.6" fill="#00B0F6" stroke="#333" stroke-width="0.5"/>
<line x1="318.7" x2="326.9" y1="8.8" y2="8.8" stroke="#333" stroke-width="0.8"/>
<text transform="translate(329 11.5) scale(0.905 1)" text-anchor="start" font-size="8.1" fill="#000" stroke="#000" stroke-width="0.12">Stroll</text>
<rect x="347.4" y="4.6" width="9" height="8.4" fill="#f2f2f2"/>
<line x1="352" x2="352" y1="4.9" y2="12.8" stroke="#333" stroke-width="0.6"/>
<rect x="347.9" y="6" width="8.2" height="5.6" fill="#E76BF3" stroke="#333" stroke-width="0.5"/>
<line x1="347.9" x2="356.1" y1="8.8" y2="8.8" stroke="#333" stroke-width="0.8"/>
<text transform="translate(358.7 11.5) scale(0.905 1)" text-anchor="start" font-size="8.1" fill="#000" stroke="#000" stroke-width="0.12">Transportation</text>
</g>
</svg>
</body></html>
